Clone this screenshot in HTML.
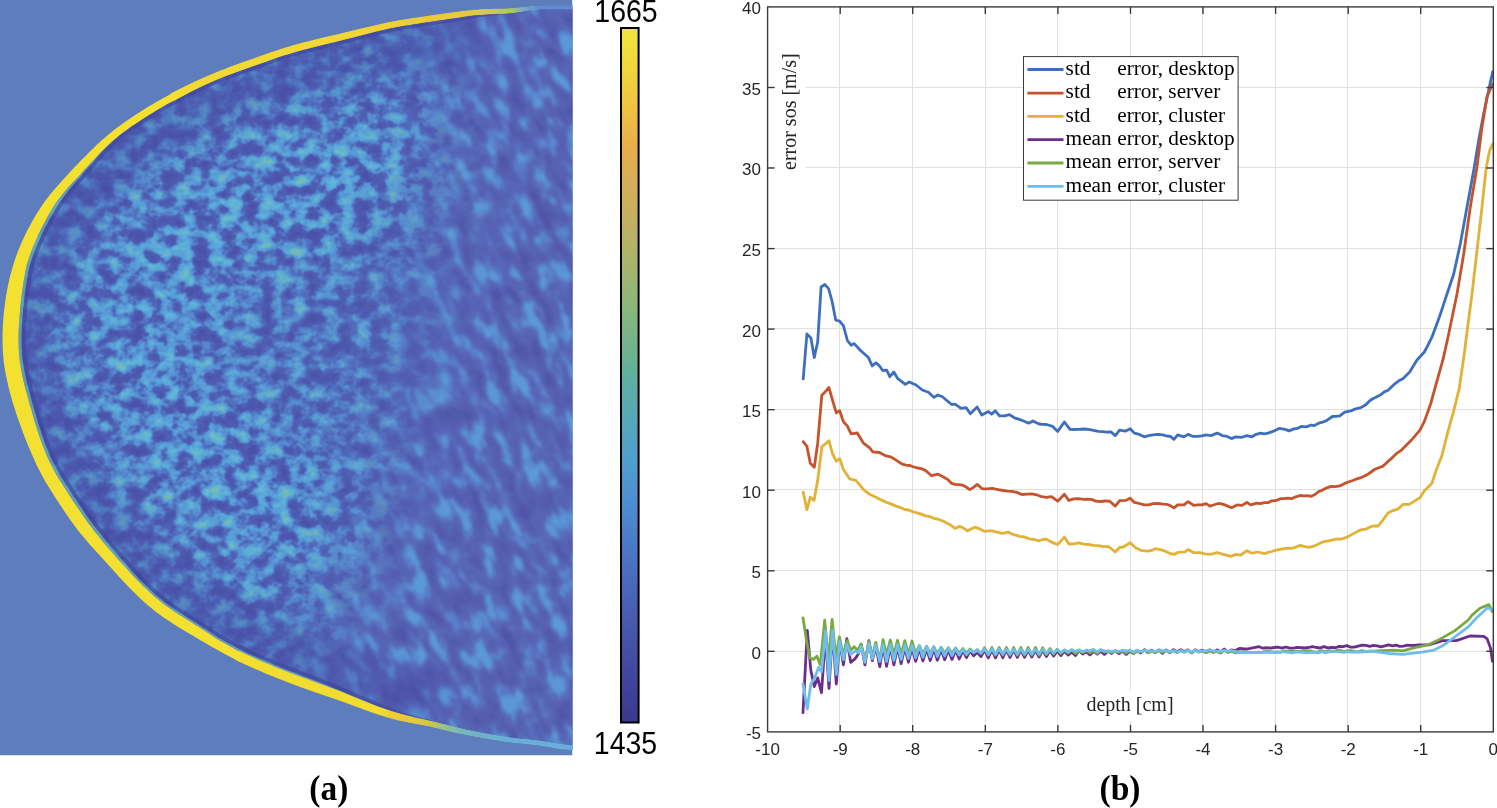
<!DOCTYPE html>
<html><head><meta charset="utf-8"><title>figure</title>
<style>html,body{margin:0;padding:0;background:#fff;width:1497px;height:808px;overflow:hidden}svg{display:block}</style>
</head><body>
<svg width="1497" height="808" viewBox="0 0 1497 808">
<defs>
<clipPath id="hm"><rect x="0" y="0" width="572.5" height="755.5"/></clipPath>
<clipPath id="br"><path d="M574.0,6.0 L571.4,6.0 L567.8,6.0 L563.5,6.0 L559.2,6.0 L555.4,6.0 L552.1,6.0 L548.9,6.0 L545.9,6.0 L542.9,6.0 L540.0,6.1 L537.1,6.3 L534.4,6.4 L531.7,6.6 L529.0,6.9 L526.3,7.1 L523.5,7.4 L520.8,7.7 L518.1,8.0 L515.3,8.3 L512.2,8.6 L509.1,8.8 L505.7,8.9 L502.3,9.0 L498.8,9.1 L495.2,9.2 L491.7,9.3 L488.1,9.4 L484.5,9.5 L480.8,9.7 L477.1,9.9 L473.2,10.3 L469.3,10.7 L465.3,11.1 L461.1,11.6 L456.9,12.2 L452.3,12.8 L447.6,13.4 L442.8,14.1 L438.0,14.7 L433.5,15.4 L429.0,16.0 L424.7,16.7 L420.5,17.3 L416.4,17.9 L412.4,18.5 L408.6,19.1 L405.1,19.7 L401.6,20.2 L398.0,20.8 L394.2,21.6 L390.3,22.3 L386.4,23.1 L382.3,24.0 L377.8,25.0 L372.7,26.2 L366.8,27.6 L360.3,29.1 L353.3,30.8 L346.3,32.5 L339.4,34.2 L332.3,35.8 L325.0,37.5 L317.8,39.2 L310.9,40.9 L304.6,42.5 L299.1,43.9 L294.1,45.3 L289.5,46.7 L285.1,48.0 L280.6,49.4 L276.2,50.9 L271.9,52.3 L267.7,53.8 L263.5,55.3 L259.3,56.8 L255.0,58.3 L250.8,59.8 L246.5,61.3 L242.2,62.8 L238.0,64.3 L233.8,65.8 L229.7,67.3 L225.7,68.9 L221.5,70.5 L217.2,72.2 L212.8,74.0 L208.3,75.9 L203.7,77.9 L199.1,80.0 L194.5,82.1 L189.8,84.3 L184.9,86.7 L180.1,89.1 L175.3,91.5 L170.7,94.0 L166.2,96.4 L161.6,98.9 L157.2,101.4 L153.0,103.9 L148.9,106.3 L145.0,108.7 L141.4,110.9 L137.9,113.2 L134.5,115.4 L131.1,117.7 L127.8,120.0 L124.5,122.2 L121.4,124.5 L118.3,126.8 L115.2,129.1 L112.2,131.5 L109.2,133.9 L106.2,136.4 L103.3,138.9 L100.4,141.5 L97.5,144.1 L94.8,146.7 L92.0,149.4 L89.3,152.1 L86.5,154.9 L83.7,157.7 L80.9,160.6 L78.2,163.4 L75.4,166.3 L72.7,169.2 L70.0,172.1 L67.4,174.9 L64.8,177.7 L62.2,180.6 L59.7,183.4 L57.2,186.3 L54.7,189.0 L52.3,191.9 L49.8,194.8 L47.4,198.0 L44.9,201.3 L42.4,204.8 L40.0,208.4 L37.6,212.2 L35.2,216.1 L32.8,220.2 L30.5,224.4 L28.2,228.7 L25.9,233.2 L23.8,237.6 L21.7,242.2 L19.7,246.9 L17.8,251.6 L16.0,256.4 L14.4,261.2 L12.9,266.0 L11.5,270.9 L10.2,275.8 L9.0,280.7 L7.9,285.7 L6.9,290.7 L6.0,295.7 L5.3,300.8 L4.6,305.9 L4.0,311.1 L3.5,316.3 L3.1,321.6 L2.8,326.9 L2.6,332.1 L2.5,337.1 L2.5,341.8 L2.6,346.3 L2.8,350.7 L3.1,355.0 L3.5,359.2 L3.9,363.3 L4.5,367.2 L5.1,371.1 L5.9,375.0 L6.7,379.0 L7.6,383.1 L8.5,387.2 L9.6,391.4 L10.7,395.6 L11.9,399.7 L13.1,403.9 L14.4,408.0 L15.7,412.1 L17.1,416.3 L18.6,420.5 L20.1,424.8 L21.7,429.1 L23.3,433.4 L25.0,437.8 L26.7,442.0 L28.4,446.3 L30.2,450.5 L32.0,454.7 L33.8,458.8 L35.6,462.9 L37.5,466.7 L39.3,470.5 L41.2,474.1 L43.2,477.8 L45.2,481.4 L47.4,485.0 L49.6,488.6 L51.8,492.1 L54.1,495.7 L56.4,499.2 L58.7,502.8 L61.0,506.3 L63.4,509.9 L65.8,513.4 L68.3,517.0 L70.8,520.5 L73.3,524.1 L75.9,527.6 L78.6,531.2 L81.4,534.6 L84.2,538.1 L87.2,541.5 L90.2,544.9 L93.2,548.3 L96.3,551.7 L99.4,555.1 L102.5,558.6 L105.6,562.0 L108.8,565.5 L112.0,569.0 L115.2,572.6 L118.5,576.2 L121.8,579.8 L125.1,583.3 L128.4,586.8 L131.7,590.1 L134.9,593.3 L138.2,596.5 L141.4,599.5 L144.6,602.5 L147.7,605.2 L150.9,607.8 L153.9,610.3 L157.1,612.7 L160.2,615.1 L163.4,617.4 L166.6,619.5 L169.8,621.6 L173.0,623.7 L176.3,625.8 L179.7,627.9 L183.1,629.9 L186.6,632.0 L190.1,634.0 L193.6,636.1 L197.2,638.2 L200.8,640.4 L204.5,642.6 L208.2,644.8 L212.0,647.0 L215.8,649.1 L219.7,651.3 L223.6,653.4 L227.6,655.5 L231.5,657.5 L235.4,659.5 L239.3,661.4 L243.2,663.2 L247.1,665.0 L250.9,666.7 L254.8,668.4 L258.7,670.1 L262.5,671.8 L266.4,673.4 L270.4,675.1 L274.5,676.7 L278.7,678.4 L283.0,680.1 L287.3,681.8 L291.6,683.4 L296.0,685.1 L300.4,686.7 L304.9,688.3 L309.4,689.9 L313.9,691.5 L318.4,693.1 L322.8,694.6 L327.3,696.1 L331.7,697.6 L336.0,699.1 L340.2,700.6 L344.4,702.1 L348.6,703.6 L352.6,705.1 L356.7,706.5 L360.6,707.9 L364.5,709.4 L368.4,710.8 L372.2,712.2 L376.1,713.5 L380.0,714.8 L383.8,716.0 L387.7,717.2 L391.5,718.3 L395.3,719.3 L399.0,720.2 L402.7,721.0 L406.3,721.7 L409.9,722.4 L413.3,723.1 L416.7,723.7 L420.0,724.3 L423.2,724.9 L426.3,725.5 L429.4,726.1 L432.3,726.8 L435.1,727.4 L437.9,728.1 L440.6,728.8 L443.4,729.5 L446.2,730.2 L449.0,730.9 L451.8,731.6 L454.8,732.3 L457.8,732.9 L461.1,733.6 L464.5,734.2 L468.0,734.9 L471.5,735.5 L475.1,736.2 L478.7,736.8 L482.3,737.5 L486.0,738.1 L489.7,738.8 L493.5,739.4 L497.3,740.0 L501.2,740.6 L505.0,741.2 L508.9,741.7 L512.7,742.2 L516.6,742.7 L520.5,743.1 L524.3,743.4 L528.1,743.8 L531.6,744.2 L534.8,744.6 L537.9,745.0 L540.8,745.4 L543.7,745.8 L546.4,746.2 L549.0,746.6 L551.4,747.1 L553.8,747.6 L556.2,748.0 L558.8,748.4 L561.9,748.8 L565.4,749.1 L568.9,749.4 L571.9,749.6 L574.0,749.8 Z"/></clipPath>
<filter id="texA" x="0" y="0" width="575" height="760" filterUnits="userSpaceOnUse" color-interpolation-filters="sRGB">
<feTurbulence type="fractalNoise" baseFrequency="0.062 0.07" numOctaves="3" seed="11"/>
<feColorMatrix type="matrix" values="1.5 0 0 0 -0.30  1.5 0 0 0 -0.30  1.5 0 0 0 -0.30  0 0 0 0 1"/>
<feComponentTransfer>
<feFuncR type="table" tableValues="0.30 0.305 0.31 0.315 0.32 0.325 0.33 0.34 0.35 0.36 0.40"/>
<feFuncG type="table" tableValues="0.33 0.345 0.36 0.375 0.39 0.42 0.48 0.55 0.60 0.64 0.68"/>
<feFuncB type="table" tableValues="0.67 0.68 0.69 0.70 0.71 0.73 0.77 0.81 0.83 0.84 0.80"/>
</feComponentTransfer>
</filter>
<filter id="texB" x="0" y="0" width="575" height="760" filterUnits="userSpaceOnUse" color-interpolation-filters="sRGB">
<feTurbulence type="fractalNoise" baseFrequency="0.062 0.07" numOctaves="3" seed="11"/>
<feColorMatrix type="matrix" values="1.7 0 0 0 -0.38  1.7 0 0 0 -0.38  1.7 0 0 0 -0.38  0 0 0 0 1"/>
<feComponentTransfer>
<feFuncR type="table" tableValues="0.29 0.30 0.305 0.31 0.32 0.34 0.35 0.35 0.37 0.40 0.47"/>
<feFuncG type="table" tableValues="0.32 0.34 0.355 0.38 0.46 0.55 0.62 0.66 0.70 0.72 0.74"/>
<feFuncB type="table" tableValues="0.66 0.675 0.69 0.71 0.76 0.81 0.85 0.86 0.84 0.80 0.69"/>
</feComponentTransfer>
</filter>
<filter id="blur40" x="-50%" y="-50%" width="200%" height="200%"><feGaussianBlur stdDeviation="40"/></filter>
<mask id="glm" maskUnits="userSpaceOnUse" x="0" y="0" width="575" height="760">
<g filter="url(#blur40)"><path d="M475.6,65.3 L471.8,65.7 L467.9,66.2 L463.8,66.7 L459.5,67.3 L455.0,67.9 L450.4,68.5 L445.7,69.2 L441.3,69.8 L437.0,70.4 L432.9,71.0 L428.8,71.7 L424.8,72.3 L420.9,72.9 L417.0,73.5 L413.6,74.0 L410.5,74.5 L407.6,75.0 L404.5,75.6 L401.2,76.2 L397.8,76.9 L394.1,77.7 L389.9,78.7 L385.1,79.8 L379.4,81.1 L373.1,82.6 L366.3,84.3 L359.2,86.0 L352.1,87.7 L344.9,89.4 L337.6,91.1 L330.5,92.8 L324.0,94.3 L318.3,95.7 L313.4,97.0 L309.1,98.2 L305.1,99.4 L301.3,100.6 L297.4,101.8 L293.7,103.0 L290.1,104.2 L286.2,105.6 L282.0,107.1 L277.5,108.7 L273.0,110.3 L268.7,111.8 L264.6,113.2 L260.6,114.6 L256.8,116.0 L252.9,117.4 L249.0,118.8 L245.4,120.2 L241.7,121.6 L238.0,123.1 L234.0,124.8 L229.9,126.5 L225.9,128.3 L221.8,130.1 L217.8,131.9 L213.6,133.9 L209.3,136.0 L204.9,138.2 L200.6,140.4 L196.5,142.5 L192.5,144.7 L188.6,146.9 L184.6,149.1 L180.8,151.3 L177.2,153.5 L173.9,155.5 L170.8,157.4 L167.8,159.4 L164.8,161.3 L161.9,163.3 L159.0,165.2 L156.3,167.1 L153.8,168.9 L151.3,170.7 L148.9,172.6 L146.5,174.5 L144.1,176.4 L141.8,178.4 L139.4,180.4 L137.2,182.4 L135.0,184.3 L132.9,186.4 L130.6,188.6 L128.1,191.1 L125.5,193.7 L123.0,196.2 L120.4,198.8 L117.9,201.5 L115.3,204.2 L112.8,206.9 L110.3,209.5 L107.8,212.2 L105.5,214.7 L103.2,217.3 L100.8,219.9 L98.3,222.8 L96.1,225.3 L94.2,227.4 L92.7,229.3 L91.2,231.1 L89.5,233.5 L87.7,236.0 L85.9,238.7 L84.2,241.4 L82.4,244.2 L80.6,247.3 L78.8,250.6 L77.0,254.0 L75.3,257.3 L73.7,260.8 L72.1,264.3 L70.5,268.0 L69.1,271.6 L67.8,275.1 L66.6,278.5 L65.5,281.8 L64.5,285.4 L63.5,289.1 L62.6,292.9 L61.8,296.8 L61.0,300.8 L60.3,304.7 L59.7,308.7 L59.1,312.8 L58.7,316.8 L58.3,320.9 L58.0,325.2 L57.7,329.5 L57.6,333.7 L57.5,337.6 L57.5,341.2 L57.6,344.5 L57.7,347.6 L57.9,350.7 L58.2,353.7 L58.5,356.3 L58.9,358.9 L59.3,361.5 L59.9,364.5 L60.5,367.7 L61.2,370.9 L62.0,374.2 L62.8,377.6 L63.8,381.1 L64.7,384.6 L65.8,388.0 L66.8,391.4 L68.0,395.0 L69.2,398.6 L70.4,402.3 L71.8,406.0 L73.2,409.8 L74.7,413.7 L76.2,417.6 L77.7,421.5 L79.3,425.5 L80.9,429.3 L82.4,432.9 L83.9,436.3 L85.4,439.5 L86.8,442.5 L88.3,445.5 L89.8,448.4 L91.4,451.2 L92.9,454.0 L94.5,456.6 L96.2,459.4 L98.1,462.5 L100.3,465.8 L102.6,469.3 L104.8,472.8 L107.0,476.1 L109.1,479.3 L111.2,482.4 L113.3,485.4 L115.6,488.6 L117.8,491.7 L120.0,494.7 L122.1,497.5 L124.1,500.1 L126.2,502.6 L128.6,505.3 L131.2,508.3 L134.2,511.6 L137.2,515.0 L140.2,518.3 L143.2,521.6 L146.2,524.9 L149.4,528.4 L152.6,531.9 L155.9,535.5 L159.2,539.1 L162.3,542.5 L165.1,545.6 L167.9,548.5 L170.7,551.3 L173.5,554.2 L176.2,556.8 L178.8,559.2 L181.2,561.4 L183.6,563.5 L185.9,565.4 L188.1,567.3 L190.4,569.0 L192.7,570.7 L194.8,572.3 L197.1,573.8 L199.6,575.4 L202.5,577.2 L205.5,579.1 L208.3,580.9 L211.3,582.7 L214.5,584.6 L218.0,586.6 L221.7,588.8 L225.5,591.1 L229.1,593.2 L232.6,595.3 L235.9,597.3 L239.2,599.2 L242.7,601.1 L246.2,603.1 L249.7,605.0 L253.1,606.8 L256.3,608.5 L259.5,610.1 L262.8,611.7 L266.3,613.3 L269.8,614.9 L273.5,616.5 L277.0,618.1 L280.5,619.6 L284.0,621.1 L287.6,622.7 L291.3,624.2 L295.1,625.8 L299.0,627.3 L303.0,628.9 L307.0,630.4 L311.0,632.0 L315.1,633.5 L319.2,635.0 L323.5,636.5 L327.9,638.1 L332.2,639.6 L336.4,641.1 L340.7,642.6 L345.1,644.1 L349.6,645.7 L354.1,647.2 L358.5,648.8 L362.8,650.3 L367.0,651.8 L371.1,653.3 L375.3,654.8 L379.6,656.3 L383.6,657.8 L387.2,659.1 L390.4,660.3 L393.5,661.3 L396.8,662.4 L400.2,663.5 L403.4,664.5 L406.3,665.3 L408.9,666.0 L411.4,666.6 L414.0,667.2 L417.0,667.8 L420.4,668.4 L423.8,669.1 L426.7,669.7 L429.7,670.2 L433.0,670.8 L436.7,671.5 L440.2,672.2 L472.7,510.4 L467.9,509.5 L462.4,508.4 L458.8,507.8 L456.9,507.5 L455.1,507.1 L452.0,506.5 L449.1,505.9 L447.9,505.7 L448.4,505.8 L449.8,506.2 L450.6,506.4 L450.3,506.3 L449.2,505.9 L447.5,505.4 L445.9,504.9 L445.1,504.6 L443.7,504.1 L440.7,503.0 L436.4,501.4 L431.3,499.5 L426.6,497.9 L422.4,496.4 L418.0,494.8 L413.4,493.2 L408.6,491.5 L403.6,489.7 L398.8,488.1 L394.5,486.6 L390.7,485.3 L387.1,484.0 L383.2,482.6 L379.2,481.2 L375.5,479.9 L372.2,478.7 L369.3,477.6 L366.2,476.4 L363.1,475.2 L360.0,474.0 L357.0,472.8 L354.0,471.6 L351.1,470.4 L348.4,469.3 L346.0,468.2 L343.6,467.2 L341.0,466.0 L338.2,464.7 L335.6,463.5 L333.5,462.6 L332.0,461.9 L330.9,461.3 L329.7,460.7 L328.0,459.7 L325.8,458.6 L323.2,457.1 L320.8,455.8 L318.9,454.7 L316.7,453.4 L313.9,451.7 L310.3,449.5 L306.0,447.0 L301.7,444.4 L298.2,442.4 L295.7,440.9 L294.1,440.0 L292.8,439.1 L290.7,437.8 L289.1,436.8 L288.6,436.5 L289.2,436.9 L290.1,437.6 L290.6,437.9 L290.7,438.0 L291.0,438.2 L291.1,438.3 L291.1,438.4 L291.0,438.2 L290.5,437.7 L289.4,436.7 L287.8,435.1 L286.4,433.6 L285.2,432.4 L283.6,430.6 L281.1,428.0 L278.0,424.5 L274.4,420.6 L271.0,416.9 L268.1,413.7 L265.3,410.7 L262.8,407.9 L260.1,404.9 L257.0,401.4 L254.4,398.5 L252.8,396.7 L252.2,396.1 L252.4,396.3 L252.6,396.5 L252.1,395.9 L251.2,394.7 L249.9,392.8 L248.4,390.7 L247.3,389.1 L246.2,387.5 L244.8,385.4 L243.1,382.8 L241.0,379.5 L238.8,376.1 L237.1,373.5 L236.1,372.0 L235.9,371.6 L236.0,371.7 L235.8,371.5 L235.6,371.0 L235.3,370.5 L235.0,369.9 L234.7,369.3 L234.4,368.7 L233.9,367.5 L233.1,365.6 L232.0,363.0 L230.8,360.0 L229.7,357.2 L228.7,354.6 L227.7,352.1 L226.9,349.8 L226.1,347.6 L225.4,345.4 L224.7,343.4 L224.2,341.7 L223.7,340.4 L223.3,339.1 L222.9,337.6 L222.5,336.1 L222.3,335.0 L222.1,334.4 L222.0,333.8 L221.8,332.9 L221.8,332.8 L221.9,333.7 L222.2,335.5 L222.4,337.0 L222.4,337.8 L222.5,338.3 L222.5,338.8 L222.5,339.3 L222.5,339.3 L222.5,338.5 L222.6,337.2 L222.6,335.8 L222.7,334.7 L222.8,334.0 L222.9,333.2 L223.0,332.4 L223.1,331.7 L223.2,331.1 L223.3,330.4 L223.5,329.6 L223.6,329.0 L223.7,328.9 L223.5,329.4 L223.2,330.3 L222.9,331.2 L222.8,331.6 L222.9,331.4 L223.1,330.7 L223.4,330.1 L223.5,329.9 L223.6,329.7 L223.8,329.3 L224.1,328.8 L224.2,328.7 L224.0,329.1 L223.6,329.5 L223.5,329.8 L223.4,330.0 L222.8,330.7 L221.3,332.6 L220.0,334.2 L220.1,334.2 L221.7,332.3 L224.2,329.5 L226.1,327.3 L227.6,325.7 L229.2,323.9 L231.0,322.0 L233.0,319.9 L235.0,317.7 L237.0,315.6 L238.9,313.7 L240.6,311.9 L242.4,310.1 L244.5,308.0 L246.2,306.3 L247.2,305.3 L247.6,305.0 L247.6,305.0 L247.9,304.7 L248.4,304.3 L249.0,303.8 L249.5,303.4 L250.0,303.0 L250.4,302.7 L250.9,302.3 L251.6,301.8 L252.8,301.0 L254.3,299.9 L256.0,298.8 L257.5,297.8 L258.9,296.9 L260.3,296.1 L262.0,295.0 L264.3,293.7 L266.8,292.2 L269.3,290.8 L271.7,289.4 L274.0,288.2 L276.6,286.9 L279.4,285.4 L282.3,284.0 L285.1,282.6 L287.6,281.4 L289.9,280.4 L292.2,279.3 L294.8,278.2 L297.6,277.0 L300.3,275.9 L302.5,275.0 L304.5,274.3 L306.9,273.3 L309.9,272.2 L313.1,271.1 L315.9,270.0 L318.9,269.0 L322.6,267.7 L326.9,266.2 L332.1,264.4 L337.5,262.5 L341.9,260.9 L344.8,259.9 L346.3,259.4 L347.7,258.9 L349.9,258.2 L352.1,257.6 L354.2,257.0 L356.6,256.3 L359.5,255.5 L363.3,254.6 L368.6,253.3 L375.2,251.7 L382.6,250.0 L390.3,248.2 L397.8,246.4 L405.0,244.7 L411.6,243.1 L417.4,241.7 L422.3,240.5 L426.4,239.6 L429.7,238.9 L432.1,238.3 L434.0,237.9 L435.5,237.6 L436.5,237.5 L437.3,237.3 L439.1,237.0 L442.3,236.5 L446.2,235.9 L450.1,235.3 L453.7,234.8 L457.3,234.2 L461.0,233.7 L464.8,233.1 L468.9,232.5 L473.1,231.9 L477.2,231.4 L481.0,230.9 L484.5,230.4 L488.2,230.0 L491.3,229.6 L494.6,229.2 Z" fill="#fff"/><ellipse cx="330" cy="420" rx="90" ry="120" fill="#fff" opacity="0.35"/></g>
</mask>
<filter id="blur12" x="-20%" y="-20%" width="140%" height="140%"><feGaussianBlur stdDeviation="10"/></filter>
<filter id="texC" x="-400" y="-400" width="1400" height="1600" filterUnits="userSpaceOnUse" color-interpolation-filters="sRGB">
<feTurbulence type="fractalNoise" baseFrequency="0.075 0.035" numOctaves="3" seed="23"/>
<feColorMatrix type="matrix" values="2.0 0 0 0 -0.44  2.0 0 0 0 -0.44  2.0 0 0 0 -0.44  0 0 0 0 1"/>
<feComponentTransfer>
<feFuncR type="table" tableValues="0.31 0.32 0.33 0.335 0.34 0.345 0.345 0.35 0.35 0.35 0.36"/>
<feFuncG type="table" tableValues="0.33 0.35 0.36 0.37 0.38 0.39 0.41 0.45 0.50 0.55 0.60"/>
<feFuncB type="table" tableValues="0.66 0.67 0.68 0.69 0.70 0.71 0.72 0.75 0.79 0.82 0.84"/>
</feComponentTransfer>
<feGaussianBlur stdDeviation="1.5"/>
</filter>
<mask id="rtm" maskUnits="userSpaceOnUse" x="0" y="0" width="575" height="760">
<g filter="url(#blur40)"><path d="M420,-50 L650,-50 L650,820 L300,820 L320,640 L380,480 L420,300 L440,100 Z" fill="#fff"/></g>
</mask>
<linearGradient id="fade" x1="0" y1="0" x2="575" y2="0" gradientUnits="userSpaceOnUse">
<stop offset="0" stop-color="#5262b4" stop-opacity="0"/>
<stop offset="0.5" stop-color="#5262b4" stop-opacity="0.05"/>
<stop offset="0.8" stop-color="#5262b4" stop-opacity="0.4"/>
<stop offset="1" stop-color="#5262b4" stop-opacity="0.5"/>
</linearGradient>
</defs>
<g clip-path="url(#hm)">
<rect x="0" y="0" width="572.5" height="755.5" fill="#5e7dbd"/>
<g clip-path="url(#br)"><rect x="0" y="0" width="575" height="760" fill="#5566b5" filter="url(#texA)"/><g mask="url(#glm)"><rect x="0" y="0" width="575" height="760" fill="#5566b5" filter="url(#texB)"/></g><g mask="url(#rtm)"><g transform="rotate(-25 450 380)"><rect x="-400" y="-400" width="1400" height="1600" fill="#5566b5" filter="url(#texC)"/></g></g><path d="M470.0,16.6 L466.0,17.1 L461.9,17.6 L457.6,18.1 L453.1,18.7 L448.4,19.3 L443.6,20.0 L438.9,20.7 L434.3,21.3 L429.9,22.0 L425.6,22.6 L421.4,23.2 L417.3,23.9 L413.3,24.5 L409.5,25.1 L406.0,25.6 L402.6,26.2 L399.1,26.8 L395.3,27.4 L391.5,28.2 L387.6,29.0 L383.6,29.9 L379.1,30.9 L374.0,32.0 L368.2,33.4 L361.7,35.0 L354.8,36.6 L347.7,38.3 L340.7,40.0 L333.7,41.7 L326.4,43.4 L319.2,45.1 L312.3,46.7 L306.1,48.3 L300.6,49.7 L295.7,51.1 L291.2,52.4 L286.8,53.7 L282.4,55.1 L278.1,56.5 L273.9,58.0 L269.7,59.5 L265.5,61.0 L261.3,62.5 L257.0,64.0 L252.7,65.5 L248.5,66.9 L244.2,68.4 L240.0,69.9 L235.9,71.4 L231.9,72.9 L227.8,74.5 L223.7,76.1 L219.5,77.8 L215.1,79.6 L210.7,81.4 L206.2,83.4 L201.6,85.4 L197.0,87.5 L192.4,89.7 L187.6,92.1 L182.8,94.5 L178.1,96.9 L173.5,99.3 L169.0,101.7 L164.6,104.2 L160.2,106.6 L156.0,109.1 L152.0,111.5 L148.2,113.8 L144.6,116.0 L141.1,118.2 L137.8,120.4 L134.4,122.7 L131.2,124.9 L128.0,127.1 L124.9,129.3 L121.9,131.6 L118.9,133.8 L115.9,136.2 L113.0,138.6 L110.1,141.0 L107.2,143.5 L104.4,146.0 L101.6,148.5 L98.9,151.1 L96.2,153.7 L93.5,156.4 L90.8,159.1 L88.0,161.9 L85.3,164.7 L82.5,167.6 L79.7,170.5 L77.0,173.3 L74.4,176.2 L71.8,179.0 L69.2,181.8 L66.7,184.6 L64.2,187.4 L61.7,190.2 L59.2,193.0 L56.8,195.7 L54.5,198.6 L52.2,201.6 L49.8,204.8 L47.4,208.2 L45.0,211.7 L42.6,215.4 L40.3,219.2 L38.0,223.1 L35.7,227.2 L33.5,231.5 L31.3,235.8 L29.2,240.2 L27.2,244.6 L25.3,249.2 L23.4,253.8 L21.7,258.4 L20.1,263.1 L18.6,267.7 L17.2,272.4 L16.0,277.2 L14.9,282.0 L13.8,286.9 L12.8,291.8 L12.0,296.7 L11.2,301.7 L10.5,306.7 L9.9,311.7 L9.5,316.8 L9.1,322.0 L8.8,327.2 L8.6,332.3 L8.5,337.2 L8.5,341.7 L8.6,346.1 L8.8,350.4 L9.1,354.5 L9.4,358.6 L9.9,362.6 L10.4,366.3 L11.1,370.1 L11.8,373.9 L12.5,377.7 L13.4,381.7 L14.4,385.8 L15.4,389.9 L16.5,394.0 L17.6,398.1 L18.8,402.1 L20.1,406.2 L21.4,410.3 L22.8,414.4 L24.2,418.5 L25.7,422.7 L27.3,427.0 L28.9,431.3 L30.6,435.6 L32.3,439.8 L34.0,444.0 L35.7,448.2 L37.5,452.3 L39.2,456.4 L41.0,460.3 L42.8,464.1 L44.7,467.7 L46.5,471.3 L48.5,474.9 L50.5,478.4 L52.5,481.9 L54.7,485.4 L56.9,488.9 L59.1,492.4 L61.4,495.9 L63.7,499.5 L66.1,503.0 L68.4,506.6 L70.8,510.1 L73.2,513.6 L75.7,517.1 L78.2,520.6 L80.8,524.0 L83.4,527.5 L86.0,530.9 L88.8,534.2 L91.7,537.6 L94.6,540.9 L97.7,544.3 L100.7,547.7 L103.8,551.1 L106.9,554.5 L110.1,558.0 L113.2,561.5 L116.4,565.0 L119.7,568.5 L123.0,572.1 L126.2,575.7 L129.5,579.2 L132.7,582.6 L135.9,585.8 L139.1,589.1 L142.3,592.2 L145.5,595.1 L148.6,598.0 L151.7,600.7 L154.7,603.2 L157.7,605.6 L160.7,608.0 L163.7,610.3 L166.8,612.4 L169.9,614.5 L173.0,616.6 L176.3,618.6 L179.5,620.7 L182.8,622.8 L186.2,624.8 L189.6,626.8 L193.1,628.8 L196.7,630.9 L200.3,633.1 L203.9,635.3 L207.6,637.5 L211.2,639.6 L214.9,641.8 L218.7,643.9 L222.6,646.0 L226.5,648.2 L230.3,650.2 L234.2,652.2 L238.0,654.1 L241.8,655.9 L245.7,657.7 L249.5,659.5 L253.4,661.3 L257.2,663.0 L261.0,664.6 L264.9,666.3 L268.7,667.9 L272.7,669.5 L276.8,671.2 L280.9,672.9 L285.2,674.5 L289.4,676.2 L293.7,677.8 L298.1,679.4 L302.5,681.1 L307.0,682.7 L311.4,684.3 L315.9,685.8 L320.3,687.4 L324.8,688.9 L329.2,690.5 L333.6,692.0 L338.0,693.5 L342.2,695.0 L346.4,696.5 L350.6,697.9 L354.7,699.4 L358.7,700.9 L362.7,702.3 L366.6,703.8 L370.4,705.2 L374.2,706.5 L378.0,707.8 L381.8,709.1 L385.6,710.3 L389.4,711.4 L393.1,712.5 L396.8,713.5 L400.4,714.4 L403.9,715.1 L407.5,715.8 L411.0,716.5 L414.5,717.2 L417.8,717.8 L421.0,718.4 L424.3,719.0 L427.5,719.6 L430.6,720.2 L439.2,677.1 L435.8,676.4 L432.1,675.7 L428.8,675.1 L425.8,674.6 L422.8,674.0 L419.4,673.3 L416.0,672.7 L413.0,672.1 L410.2,671.5 L407.7,670.9 L405.0,670.1 L401.9,669.2 L398.7,668.3 L395.3,667.2 L392.0,666.1 L388.8,665.0 L385.5,663.8 L381.9,662.5 L377.9,661.0 L373.6,659.5 L369.5,658.0 L365.3,656.5 L361.1,655.0 L356.9,653.5 L352.5,652.0 L348.0,650.4 L343.5,648.9 L339.1,647.3 L334.8,645.8 L330.5,644.3 L326.2,642.8 L321.8,641.2 L317.5,639.7 L313.3,638.2 L309.2,636.6 L305.2,635.1 L301.2,633.5 L297.2,632.0 L293.3,630.4 L289.4,628.8 L285.7,627.3 L282.0,625.7 L278.5,624.2 L275.0,622.7 L271.4,621.1 L267.8,619.5 L264.2,617.8 L260.7,616.2 L257.3,614.6 L254.1,612.9 L250.8,611.2 L247.3,609.4 L243.8,607.5 L240.2,605.5 L236.7,603.5 L233.4,601.6 L230.0,599.6 L226.5,597.5 L222.9,595.4 L219.1,593.1 L215.4,590.9 L211.9,588.9 L208.7,587.0 L205.7,585.2 L202.8,583.4 L199.8,581.5 L196.9,579.6 L194.3,577.9 L192.0,576.4 L189.7,574.8 L187.4,573.0 L185.0,571.2 L182.7,569.3 L180.3,567.3 L177.9,565.2 L175.4,562.9 L172.8,560.4 L170.0,557.7 L167.2,554.9 L164.3,551.9 L161.5,549.0 L158.6,545.9 L155.5,542.5 L152.2,538.9 L148.9,535.3 L145.7,531.7 L142.5,528.3 L139.5,525.0 L136.5,521.7 L133.5,518.3 L130.4,514.9 L127.5,511.6 L124.8,508.6 L122.4,505.8 L120.3,503.2 L118.2,500.5 L116.0,497.7 L113.8,494.7 L111.5,491.5 L109.2,488.3 L107.1,485.2 L104.9,482.1 L102.8,478.8 L100.6,475.5 L98.4,472.0 L96.1,468.5 L93.9,465.2 L92.0,462.1 L90.2,459.2 L88.6,456.5 L87.0,453.6 L85.4,450.7 L83.9,447.7 L82.4,444.7 L80.9,441.6 L79.4,438.4 L77.9,434.9 L76.3,431.2 L74.7,427.4 L73.1,423.4 L71.5,419.5 L70.0,415.5 L68.5,411.6 L67.1,407.7 L65.7,403.9 L64.4,400.2 L63.2,396.5 L62.0,392.9 L61.0,389.4 L59.9,385.9 L58.9,382.4 L58.0,378.8 L57.1,375.3 L56.3,372.0 L55.6,368.7 L54.9,365.4 L54.4,362.4 L53.9,359.6 L53.5,357.0 L53.2,354.2 L52.9,351.1 L52.7,347.9 L52.6,344.6 L52.5,341.2 L52.5,337.6 L52.6,333.6 L52.7,329.3 L53.0,324.9 L53.3,320.5 L53.7,316.3 L54.2,312.1 L54.7,308.0 L55.4,303.9 L56.1,299.9 L56.9,295.8 L57.8,291.8 L58.7,287.9 L59.7,284.1 L60.7,280.4 L61.8,276.9 L63.1,273.4 L64.4,269.8 L65.9,266.1 L67.5,262.3 L69.2,258.7 L70.8,255.1 L72.6,251.7 L74.4,248.2 L76.3,244.9 L78.1,241.7 L79.9,238.8 L81.7,235.9 L83.6,233.2 L85.5,230.5 L87.2,228.1 L88.8,226.1 L90.4,224.2 L92.3,222.0 L94.6,219.4 L97.1,216.6 L99.5,213.9 L101.8,211.4 L104.2,208.8 L106.6,206.1 L109.1,203.5 L111.7,200.8 L114.3,198.0 L116.8,195.4 L119.4,192.7 L122.0,190.2 L124.6,187.6 L127.1,185.1 L129.4,182.8 L131.6,180.7 L133.8,178.7 L136.1,176.6 L138.5,174.6 L140.9,172.5 L143.4,170.6 L145.8,168.6 L148.3,166.7 L150.8,164.9 L153.4,163.0 L156.2,161.1 L159.1,159.1 L162.1,157.1 L165.1,155.2 L168.1,153.2 L171.2,151.3 L174.6,149.2 L178.3,147.0 L182.1,144.8 L186.1,142.5 L190.1,140.3 L194.2,138.1 L198.3,135.9 L202.7,133.7 L207.1,131.5 L211.4,129.4 L215.6,127.4 L219.7,125.5 L223.9,123.7 L228.0,121.9 L232.1,120.2 L236.1,118.5 L239.9,117.0 L243.6,115.5 L247.3,114.1 L251.1,112.7 L255.1,111.3 L259.0,109.9 L262.9,108.5 L267.1,107.0 L271.4,105.6 L275.8,104.0 L280.3,102.4 L284.6,100.9 L288.5,99.5 L292.1,98.2 L295.9,97.0 L299.8,95.8 L303.7,94.6 L307.8,93.4 L312.1,92.2 L317.1,90.9 L322.8,89.5 L329.3,87.9 L336.4,86.2 L343.8,84.5 L350.9,82.8 L358.0,81.1 L365.1,79.4 L371.9,77.8 L378.3,76.2 L384.0,74.9 L388.8,73.8 L393.1,72.8 L396.8,72.0 L400.2,71.3 L403.6,70.7 L406.7,70.1 L409.7,69.6 L412.8,69.1 L416.3,68.5 L420.1,68.0 L424.1,67.3 L428.0,66.7 L432.1,66.1 L436.3,65.5 L440.6,64.9 L445.0,64.2 L449.7,63.6 L454.3,62.9 L458.8,62.3 L463.1,61.8 L467.3,61.3 L471.2,60.8 L475.0,60.3 Z" fill="#4248a0" opacity="0.3" filter="url(#blur12)"/></g>
<path d="M574.0,9.0 L571.4,9.0 L567.8,9.0 L563.5,9.0 L559.2,9.0 L555.4,9.0 L552.1,9.0 L548.9,9.0 L545.9,9.0 L543.0,9.0 L540.1,9.1 L537.3,9.3 L534.6,9.6 L532.0,9.8 L529.3,10.1 L526.6,10.5 L523.9,10.9 L521.3,11.4 L518.5,11.8 L515.6,12.3 L512.5,12.7 L509.3,13.0 L505.9,13.2 L502.4,13.4 L498.9,13.5 L495.4,13.7 L491.8,13.9 L488.3,14.0 L484.7,14.2 L481.1,14.4 L477.4,14.7 L473.7,15.1 L469.8,15.6 L465.9,16.1 L461.8,16.8 L457.5,17.4 L453.0,18.0 L448.3,18.7 L443.5,19.4 L438.8,20.1 L434.2,20.8 L429.8,21.5 L425.5,22.1 L421.3,22.7 L417.2,23.4 L413.2,24.0 L409.5,24.6 L405.9,25.1 L402.5,25.7 L399.0,26.3 L395.2,27.0 L391.4,27.8 L387.6,28.6 L383.5,29.5 L379.0,30.6 L374.0,31.8 L368.1,33.3 L361.7,34.9 L354.8,36.7 L347.7,38.5 L340.8,40.3 L333.8,42.0 L326.5,43.7 L319.3,45.5 L312.4,47.2 L306.2,48.8 L300.8,50.2 L295.9,51.6 L291.3,52.9 L287.0,54.2 L282.6,55.6 L278.2,57.0 L274.0,58.5 L269.9,59.9 L265.7,61.5 L261.5,63.0 L257.2,64.4 L252.9,65.9 L248.6,67.4 L244.4,68.9 L240.2,70.4 L236.1,71.9 L232.0,73.4 L228.0,74.9 L223.9,76.5 L219.7,78.2 L215.3,80.1 L210.9,82.0 L206.4,84.0 L201.9,86.1 L197.3,88.2 L192.7,90.5 L188.0,92.9 L183.3,95.4 L178.6,97.9 L174.1,100.4 L169.7,102.8 L165.2,105.3 L160.9,107.8 L156.7,110.3 L152.8,112.8 L149.0,115.1 L145.4,117.3 L141.9,119.5 L138.6,121.7 L135.3,123.9 L132.0,126.1 L128.9,128.3 L125.8,130.5 L122.8,132.8 L119.8,135.0 L116.9,137.5 L114.1,140.0 L111.4,142.5 L108.6,145.1 L106.0,147.7 L103.4,150.4 L100.9,153.1 L98.4,155.9 L95.9,158.8 L93.4,161.7 L90.8,164.6 L88.2,167.6 L85.6,170.6 L83.0,173.6 L80.5,176.5 L77.9,179.4 L75.4,182.3 L73.0,185.2 L70.6,188.0 L68.1,190.9 L65.8,193.9 L63.6,196.8 L61.5,199.7 L59.5,202.6 L57.5,205.6 L55.5,208.9 L53.4,212.4 L51.4,215.9 L49.4,219.6 L47.4,223.4 L45.3,227.3 L43.3,231.3 L41.2,235.5 L39.3,239.7 L37.4,244.0 L35.7,248.3 L34.0,252.8 L32.4,257.3 L30.9,261.7 L29.6,266.2 L28.6,270.7 L27.7,275.3 L26.9,279.9 L26.2,284.6 L25.5,289.3 L24.8,294.0 L24.2,298.7 L23.7,303.5 L23.2,308.3 L22.9,313.1 L22.4,317.9 L22.0,322.9 L21.8,327.8 L21.6,332.7 L21.5,337.3 L21.5,341.6 L21.6,345.7 L21.8,349.7 L22.0,353.5 L22.4,357.3 L22.8,360.9 L23.3,364.4 L23.9,367.8 L24.5,371.4 L25.3,375.1 L26.1,378.9 L27.0,382.7 L28.0,386.6 L29.0,390.5 L30.1,394.5 L31.1,398.4 L32.2,402.4 L33.3,406.3 L34.5,410.4 L35.8,414.5 L36.9,418.7 L38.2,422.9 L39.5,427.2 L40.9,431.5 L42.2,435.8 L43.8,440.0 L45.3,444.2 L46.9,448.3 L48.5,452.2 L50.1,456.0 L51.8,459.7 L53.6,463.2 L55.4,466.6 L57.2,470.0 L59.1,473.4 L61.1,476.8 L63.1,480.1 L65.3,483.5 L67.5,487.0 L69.8,490.5 L72.1,494.0 L74.4,497.5 L76.7,501.0 L79.0,504.4 L81.4,507.8 L83.7,511.3 L86.1,514.8 L88.5,518.2 L91.0,521.6 L93.4,524.9 L95.9,528.2 L98.5,531.6 L101.2,535.0 L104.1,538.6 L106.9,542.2 L109.9,545.7 L112.8,549.2 L115.8,552.7 L118.9,556.3 L122.0,559.9 L125.2,563.5 L128.4,567.1 L131.6,570.7 L134.8,574.2 L137.9,577.5 L141.0,580.8 L144.1,584.0 L147.2,587.1 L150.2,590.0 L153.3,592.8 L156.2,595.3 L159.1,597.8 L162.0,600.1 L164.9,602.4 L167.9,604.6 L170.8,606.7 L173.8,608.7 L176.8,610.7 L180.0,612.7 L183.2,614.8 L186.4,616.9 L189.7,618.9 L193.0,621.0 L196.5,623.2 L200.0,625.4 L203.5,627.7 L207.0,630.0 L210.6,632.4 L214.1,634.7 L217.7,637.0 L221.4,639.2 L225.1,641.4 L228.9,643.6 L232.7,645.7 L236.4,647.7 L240.2,649.6 L244.0,651.4 L247.8,653.2 L251.6,655.0 L255.5,656.7 L259.3,658.4 L263.0,660.0 L266.8,661.6 L270.7,663.3 L274.6,664.9 L278.7,666.6 L282.8,668.2 L287.0,669.9 L291.2,671.5 L295.5,673.1 L299.8,674.7 L304.2,676.4 L308.6,678.1 L313.0,679.8 L317.4,681.5 L321.8,683.3 L326.1,685.0 L330.5,686.8 L334.8,688.5 L339.1,690.2 L343.3,692.0 L347.4,693.8 L351.4,695.6 L355.4,697.3 L359.3,699.1 L363.3,700.7 L367.1,702.4 L370.9,704.0 L374.6,705.5 L378.3,706.9 L382.1,708.2 L385.9,709.5 L389.6,710.8 L393.3,711.9 L396.9,713.0 L400.4,714.1 L403.9,715.0 L407.5,715.9 L411.0,716.8 L414.4,717.7 L417.7,718.4 L420.9,719.1 L424.1,719.8 L427.3,720.5 L430.4,721.2 L433.4,721.9 L436.3,722.6 L439.1,723.3 L441.8,724.0 L444.6,724.6 L447.4,725.4 L450.2,726.1 L453.0,726.8 L455.8,727.6 L458.8,728.3 L462.0,729.0 L465.3,729.8 L468.8,730.5 L472.3,731.2 L475.8,732.0 L479.4,732.7 L483.1,733.4 L486.7,734.1 L490.4,734.8 L494.1,735.5 L497.9,736.0 L501.7,736.6 L505.6,737.2 L509.4,737.7 L513.2,738.2 L517.0,738.7 L520.9,739.1 L524.7,739.5 L528.5,739.8 L532.0,740.2 L535.3,740.6 L538.4,741.0 L541.4,741.4 L544.2,741.8 L547.0,742.3 L549.7,742.7 L552.2,743.2 L554.5,743.6 L556.8,744.1 L559.3,744.4 L562.3,744.8 L565.8,745.1 L569.2,745.4 L572.2,745.6 L574.3,745.8 L574.3,745.8 L572.2,745.6 L569.2,745.4 L565.8,745.1 L562.3,744.8 L559.3,744.4 L556.8,744.1 L554.5,743.6 L552.2,743.2 L549.7,742.7 L547.0,742.3 L544.2,741.8 L541.4,741.4 L538.4,741.0 L535.3,740.6 L532.0,740.2 L528.5,739.8 L524.7,739.5 L520.9,739.1 L517.0,738.7 L513.2,738.2 L509.4,737.7 L505.6,737.2 L501.7,736.6 L497.9,736.0 L494.1,735.5 L490.4,734.8 L486.7,734.1 L483.1,733.4 L479.4,732.7 L475.8,732.0 L472.3,731.2 L468.8,730.5 L465.3,729.8 L462.0,729.0 L458.8,728.3 L455.8,727.6 L453.0,726.8 L450.2,726.1 L447.4,725.2 L444.7,724.3 L441.9,723.5 L439.2,722.7 L436.5,721.9 L433.6,721.0 L430.6,720.2 L427.5,719.3 L424.4,718.5 L421.2,717.6 L418.0,716.8 L414.7,715.9 L411.3,714.9 L407.9,713.8 L404.4,712.7 L401.0,711.6 L397.6,710.4 L394.1,709.1 L390.5,707.8 L386.8,706.4 L383.1,704.9 L379.5,703.4 L375.9,701.8 L372.2,700.2 L368.5,698.6 L364.7,697.0 L360.7,695.3 L356.7,693.6 L352.8,691.8 L348.7,690.0 L344.6,688.2 L340.4,686.4 L336.1,684.7 L331.8,683.0 L327.4,681.2 L323.1,679.5 L318.8,677.7 L314.4,676.0 L310.0,674.3 L305.6,672.6 L301.2,671.0 L296.9,669.4 L292.7,667.8 L288.4,666.1 L284.3,664.5 L280.2,662.8 L276.1,661.2 L272.2,659.6 L268.4,658.0 L264.6,656.4 L260.9,654.7 L257.1,653.0 L253.3,651.3 L249.5,649.6 L245.7,647.8 L242.0,646.0 L238.3,644.2 L234.6,642.2 L230.8,640.1 L227.1,637.9 L223.3,635.7 L219.6,633.5 L216.1,631.2 L212.6,628.9 L209.1,626.6 L205.6,624.3 L202.0,621.9 L198.5,619.7 L195.0,617.6 L191.7,615.5 L188.5,613.4 L185.3,611.4 L182.1,609.4 L179.0,607.4 L176.0,605.4 L173.1,603.4 L170.2,601.4 L167.4,599.2 L164.5,597.0 L161.7,594.7 L158.8,592.3 L155.9,589.8 L153.0,587.1 L150.0,584.2 L146.9,581.1 L143.8,578.0 L140.8,574.8 L137.7,571.5 L134.6,568.0 L131.4,564.4 L128.2,560.8 L124.9,557.2 L121.8,553.6 L118.8,550.0 L115.8,546.5 L112.8,543.0 L109.9,539.5 L107.0,535.9 L104.2,532.4 L101.5,528.9 L99.0,525.6 L96.5,522.4 L94.1,519.2 L91.7,515.8 L89.4,512.5 L87.0,509.0 L84.7,505.5 L82.3,502.1 L80.0,498.8 L77.7,495.3 L75.5,491.9 L73.2,488.3 L70.9,484.8 L68.7,481.3 L66.5,478.0 L64.5,474.7 L62.6,471.4 L60.7,468.1 L58.9,464.8 L57.1,461.4 L55.4,457.9 L53.7,454.3 L52.1,450.6 L50.6,446.7 L49.0,442.6 L47.5,438.5 L46.0,434.3 L44.6,430.1 L43.2,425.8 L41.9,421.5 L40.7,417.3 L39.5,413.1 L38.3,409.1 L37.1,405.1 L36.0,401.2 L35.0,397.3 L34.0,393.4 L32.9,389.5 L31.9,385.6 L30.9,381.7 L30.0,378.0 L29.2,374.3 L28.4,370.6 L27.8,367.1 L27.2,363.7 L26.8,360.4 L26.4,356.9 L26.0,353.2 L25.8,349.4 L25.6,345.6 L25.5,341.5 L25.5,337.3 L25.6,332.8 L25.8,328.0 L26.0,323.1 L26.4,318.2 L26.9,313.5 L27.2,308.8 L27.6,304.1 L28.1,299.4 L28.8,294.8 L29.5,290.1 L30.1,285.5 L30.8,280.9 L31.5,276.4 L32.4,271.9 L33.4,267.5 L34.7,263.1 L36.1,258.7 L37.7,254.3 L39.3,249.9 L41.0,245.6 L42.9,241.4 L44.8,237.3 L46.8,233.2 L48.8,229.2 L50.9,225.4 L52.8,221.7 L54.7,218.1 L56.7,214.6 L58.7,211.3 L60.7,208.0 L62.6,205.1 L64.5,202.3 L66.6,199.5 L68.8,196.6 L71.1,193.6 L73.5,190.7 L75.9,187.8 L78.4,185.0 L80.8,182.2 L83.4,179.3 L85.9,176.3 L88.5,173.3 L91.1,170.4 L93.6,167.4 L96.2,164.5 L98.7,161.6 L101.2,158.8 L103.7,156.0 L106.2,153.3 L108.7,150.7 L111.3,148.1 L114.0,145.6 L116.7,143.1 L119.4,140.6 L122.3,138.2 L125.2,136.0 L128.2,133.8 L131.2,131.6 L134.3,129.4 L137.5,127.2 L140.8,125.0 L144.1,122.8 L147.5,120.7 L151.1,118.5 L154.8,116.2 L158.8,113.8 L162.9,111.3 L167.2,108.8 L171.6,106.3 L176.0,103.9 L180.5,101.4 L185.1,99.0 L189.8,96.5 L194.5,94.1 L199.0,91.8 L203.5,89.7 L208.0,87.7 L212.5,85.7 L216.9,83.8 L221.2,81.9 L225.4,80.2 L229.4,78.7 L233.4,77.1 L237.5,75.7 L241.6,74.1 L245.7,72.6 L249.9,71.2 L254.2,69.7 L258.5,68.2 L262.8,66.7 L267.0,65.2 L271.2,63.7 L275.4,62.2 L279.5,60.8 L283.8,59.4 L288.1,58.0 L292.5,56.7 L297.0,55.4 L301.8,54.1 L307.2,52.6 L313.4,51.0 L320.2,49.4 L327.4,47.6 L334.7,45.9 L341.7,44.1 L348.7,42.4 L355.7,40.6 L362.6,38.8 L369.1,37.2 L374.9,35.7 L379.9,34.5 L384.4,33.4 L388.4,32.5 L392.2,31.7 L396.0,30.9 L399.7,30.2 L403.1,29.6 L406.5,29.1 L410.1,28.5 L413.9,27.9 L417.8,27.3 L421.9,26.7 L426.1,26.1 L430.4,25.4 L434.8,24.8 L439.4,24.1 L444.1,23.4 L448.9,22.7 L453.5,22.0 L458.0,21.4 L462.2,20.6 L466.3,19.8 L470.2,19.0 L473.9,18.2 L477.6,17.5 L481.2,17.0 L484.8,16.5 L488.3,16.1 L491.9,15.8 L495.4,15.4 L498.9,14.9 L502.4,14.5 L505.9,14.1 L509.3,13.7 L512.6,13.2 L515.7,12.6 L518.5,12.0 L521.3,11.4 L523.9,10.9 L526.6,10.5 L529.3,10.1 L532.0,9.8 L534.6,9.6 L537.3,9.3 L540.1,9.1 L543.0,9.0 L545.9,9.0 L548.9,9.0 L552.1,9.0 L555.4,9.0 L559.2,9.0 L563.5,9.0 L567.8,9.0 L571.4,9.0 L574.0,9.0 Z" fill="#3e429c" opacity="0.6"/>
<path d="M574.0,9.0 L571.4,9.0 L567.8,9.0 L563.5,9.0 L559.2,9.0 L555.4,9.0 L552.1,9.0 L548.9,9.0 L545.9,9.0 L543.0,9.0 L540.1,9.1 L537.3,9.3 L534.6,9.6 L532.0,9.8 L529.3,10.1 L526.6,10.5 L523.9,10.9 L521.3,11.4 L518.5,11.8 L515.6,12.3 L512.5,12.7 L509.3,13.0 L505.9,13.2 L502.4,13.4 L498.9,13.5 L495.4,13.7 L491.8,13.9 L488.3,14.0 L484.7,14.2 L481.1,14.4 L477.4,14.7 L473.7,15.1 L469.8,15.6 L465.9,16.1 L461.8,16.8 L457.5,17.4 L453.0,18.0 L448.3,18.7 L443.5,19.4 L438.8,20.1 L434.2,20.8 L429.8,21.5 L425.5,22.1 L421.3,22.7 L417.2,23.4 L413.2,24.0 L409.5,24.6 L405.9,25.1 L402.5,25.7 L399.0,26.3 L395.2,27.0 L391.4,27.8 L387.6,28.6 L383.5,29.5 L379.0,30.6 L374.0,31.8 L368.1,33.3 L361.7,34.9 L354.8,36.7 L347.7,38.5 L340.8,40.3 L333.8,42.0 L326.5,43.7 L319.3,45.5 L312.4,47.2 L306.2,48.8 L300.8,50.2 L295.9,51.6 L291.3,52.9 L287.0,54.2 L282.6,55.6 L278.2,57.0 L274.0,58.5 L269.9,59.9 L265.7,61.5 L261.5,63.0 L257.2,64.4 L252.9,65.9 L248.6,67.4 L244.4,68.9 L240.2,70.4 L236.1,71.9 L232.0,73.4 L228.0,74.9 L223.9,76.5 L219.7,78.2 L215.3,80.1 L210.9,82.0 L206.4,84.0 L201.9,86.1 L197.3,88.2 L192.7,90.5 L188.0,92.9 L183.3,95.4 L178.6,97.9 L174.1,100.4 L169.7,102.8 L165.2,105.3 L160.9,107.8 L156.7,110.3 L152.8,112.8 L149.0,115.1 L145.4,117.3 L141.9,119.5 L138.6,121.7 L135.3,123.9 L132.0,126.1 L128.9,128.3 L125.8,130.5 L122.8,132.8 L119.8,135.0 L116.9,137.4 L114.0,139.8 L111.2,142.3 L108.4,144.8 L105.6,147.4 L103.0,150.0 L100.4,152.6 L97.9,155.3 L95.3,158.1 L92.6,161.0 L89.9,163.8 L87.2,166.7 L84.5,169.6 L81.9,172.5 L79.2,175.4 L76.6,178.2 L74.0,181.0 L71.5,183.8 L68.9,186.6 L66.4,189.4 L64.0,192.3 L61.7,195.2 L59.5,198.0 L57.3,200.8 L55.1,203.8 L53.1,207.2 L51.0,210.7 L48.9,214.3 L46.8,218.0 L44.8,221.9 L42.7,225.8 L40.6,229.9 L38.6,234.1 L36.6,238.4 L34.7,242.7 L32.9,247.1 L31.2,251.6 L29.6,256.2 L28.1,260.7 L26.7,265.3 L25.7,269.9 L24.8,274.5 L24.0,279.2 L23.2,283.9 L22.6,288.7 L21.9,293.5 L21.2,298.3 L20.7,303.1 L20.2,307.9 L19.9,312.7 L19.4,317.6 L19.1,322.7 L18.8,327.7 L18.6,332.6 L18.5,337.3 L18.5,341.6 L18.6,345.8 L18.8,349.8 L19.0,353.8 L19.4,357.6 L19.8,361.3 L20.3,364.8 L20.9,368.3 L21.6,371.9 L22.3,375.7 L23.2,379.5 L24.1,383.4 L25.1,387.4 L26.1,391.3 L27.3,395.3 L28.3,399.3 L29.3,403.3 L30.5,407.3 L31.7,411.3 L32.9,415.4 L34.1,419.7 L35.4,424.0 L36.7,428.3 L38.1,432.6 L39.5,436.9 L41.0,441.1 L42.6,445.3 L44.2,449.5 L45.8,453.5 L47.4,457.3 L49.1,461.0 L50.9,464.6 L52.7,468.0 L54.6,471.5 L56.5,474.9 L58.5,478.3 L60.6,481.7 L62.8,485.1 L65.0,488.6 L67.3,492.1 L69.6,495.7 L71.9,499.2 L74.2,502.7 L76.5,506.1 L78.9,509.5 L81.3,513.1 L83.7,516.6 L86.1,520.0 L88.6,523.4 L91.1,526.8 L93.6,530.2 L96.3,533.5 L99.1,537.0 L101.9,540.5 L104.8,544.0 L107.8,547.5 L110.8,551.0 L113.9,554.5 L117.0,558.0 L120.1,561.6 L123.4,565.2 L126.7,568.8 L129.9,572.3 L133.1,575.8 L136.3,579.1 L139.5,582.3 L142.6,585.5 L145.8,588.5 L148.9,591.5 L151.9,594.2 L154.9,596.9 L157.9,599.3 L160.8,601.7 L163.7,604.0 L166.7,606.2 L169.7,608.3 L172.7,610.4 L175.7,612.4 L178.9,614.4 L182.2,616.5 L185.4,618.6 L188.6,620.6 L192.0,622.7 L195.4,624.9 L199.0,627.1 L202.5,629.4 L206.0,631.8 L209.5,634.1 L213.1,636.4 L216.7,638.7 L220.4,640.9 L224.2,643.1 L228.0,645.3 L231.8,647.5 L235.5,649.5 L239.3,651.4 L243.1,653.2 L246.9,655.0 L250.8,656.8 L254.6,658.5 L258.4,660.2 L262.2,661.9 L266.0,663.5 L269.9,665.1 L273.8,666.7 L277.9,668.4 L282.0,670.1 L286.2,671.7 L290.5,673.4 L294.8,675.0 L299.1,676.6 L303.5,678.2 L308.0,679.8 L312.5,681.4 L316.9,683.0 L321.3,684.7 L325.7,686.3 L330.1,687.9 L334.5,689.5 L338.8,691.1 L343.0,692.8 L347.1,694.5 L351.2,696.2 L355.2,697.8 L359.2,699.4 L363.2,701.0 L367.1,702.5 L370.9,704.0 L374.6,705.5 L378.3,706.9 L382.1,708.2 L385.9,709.5 L389.6,710.8 L393.3,711.9 L396.9,713.0 L400.4,714.1 L403.9,715.0 L407.5,715.9 L411.0,716.8 L414.4,717.7 L417.7,718.4 L420.9,719.1 L424.1,719.8 L427.3,720.5 L430.4,721.2 L433.4,721.9 L436.3,722.6 L439.1,723.3 L441.8,724.0 L444.6,724.6 L447.4,725.4 L450.2,726.1 L453.0,726.8 L455.8,727.6 L458.8,728.3 L462.0,729.0 L465.3,729.8 L468.8,730.5 L472.3,731.2 L475.8,732.0 L479.4,732.7 L483.1,733.4 L486.7,734.1 L490.4,734.8 L494.1,735.5 L497.9,736.0 L501.7,736.6 L505.6,737.2 L509.4,737.7 L513.2,738.2 L517.0,738.7 L520.9,739.1 L524.7,739.5 L528.5,739.8 L532.0,740.2 L535.3,740.6 L538.4,741.0 L541.4,741.4 L544.2,741.8 L547.0,742.3 L549.7,742.7 L552.2,743.2 L554.5,743.6 L556.8,744.1 L559.3,744.4 L562.3,744.8 L565.8,745.1 L569.2,745.4 L572.2,745.6 L574.3,745.8 L574.3,745.8 L572.2,745.6 L569.2,745.4 L565.8,745.1 L562.3,744.8 L559.3,744.4 L556.8,744.1 L554.5,743.6 L552.2,743.2 L549.7,742.7 L547.0,742.3 L544.2,741.8 L541.4,741.4 L538.4,741.0 L535.3,740.6 L532.0,740.2 L528.5,739.8 L524.7,739.5 L520.9,739.1 L517.0,738.7 L513.2,738.2 L509.4,737.7 L505.6,737.2 L501.7,736.6 L497.9,736.0 L494.1,735.5 L490.4,734.8 L486.7,734.1 L483.1,733.4 L479.4,732.7 L475.8,732.0 L472.3,731.2 L468.8,730.5 L465.3,729.8 L462.0,729.0 L458.8,728.3 L455.8,727.6 L453.0,726.8 L450.2,726.1 L447.4,725.4 L444.6,724.6 L441.8,724.0 L439.1,723.3 L436.3,722.6 L433.4,721.9 L430.4,721.2 L427.3,720.5 L424.1,719.8 L420.9,719.1 L417.7,718.4 L414.4,717.7 L411.0,716.8 L407.5,715.9 L403.9,715.0 L400.4,714.1 L396.9,713.0 L393.3,711.9 L389.6,710.8 L385.9,709.5 L382.1,708.2 L378.3,706.9 L374.6,705.5 L370.9,704.0 L367.1,702.4 L363.3,700.7 L359.3,699.1 L355.4,697.3 L351.4,695.6 L347.4,693.8 L343.3,692.0 L339.1,690.2 L334.8,688.5 L330.5,686.8 L326.1,685.0 L321.8,683.3 L317.4,681.5 L313.0,679.8 L308.6,678.1 L304.2,676.4 L299.8,674.7 L295.5,673.1 L291.2,671.5 L287.0,669.9 L282.8,668.2 L278.7,666.6 L274.6,664.9 L270.7,663.3 L266.8,661.6 L263.0,660.0 L259.3,658.4 L255.5,656.7 L251.6,655.0 L247.8,653.2 L244.0,651.4 L240.2,649.6 L236.4,647.7 L232.7,645.7 L228.9,643.6 L225.1,641.4 L221.4,639.2 L217.7,637.0 L214.1,634.7 L210.6,632.4 L207.0,630.0 L203.5,627.7 L200.0,625.4 L196.5,623.2 L193.0,621.0 L189.7,618.9 L186.4,616.9 L183.2,614.8 L180.0,612.7 L176.8,610.7 L173.8,608.7 L170.8,606.7 L167.9,604.6 L164.9,602.4 L162.0,600.1 L159.1,597.8 L156.2,595.3 L153.3,592.8 L150.2,590.0 L147.2,587.1 L144.1,584.0 L141.0,580.8 L137.9,577.5 L134.8,574.2 L131.6,570.7 L128.4,567.1 L125.2,563.5 L122.0,559.9 L118.9,556.3 L115.8,552.7 L112.8,549.2 L109.9,545.7 L106.9,542.2 L104.1,538.6 L101.2,535.0 L98.5,531.6 L95.9,528.2 L93.4,524.9 L91.0,521.6 L88.5,518.2 L86.1,514.8 L83.7,511.3 L81.4,507.8 L79.0,504.4 L76.7,501.0 L74.4,497.5 L72.1,494.0 L69.8,490.5 L67.5,487.0 L65.3,483.5 L63.1,480.1 L61.1,476.8 L59.1,473.4 L57.2,470.0 L55.4,466.6 L53.6,463.2 L51.8,459.7 L50.1,456.0 L48.5,452.2 L46.9,448.3 L45.3,444.2 L43.8,440.0 L42.2,435.8 L40.9,431.5 L39.5,427.2 L38.2,422.9 L36.9,418.7 L35.8,414.5 L34.5,410.4 L33.3,406.3 L32.2,402.4 L31.1,398.4 L30.1,394.5 L29.0,390.5 L28.0,386.6 L27.0,382.7 L26.1,378.9 L25.3,375.1 L24.5,371.4 L23.9,367.8 L23.3,364.4 L22.8,360.9 L22.4,357.3 L22.0,353.5 L21.8,349.7 L21.6,345.7 L21.5,341.6 L21.5,337.3 L21.6,332.7 L21.8,327.8 L22.0,322.9 L22.4,317.9 L22.9,313.1 L23.2,308.3 L23.7,303.5 L24.2,298.7 L24.8,294.0 L25.5,289.3 L26.2,284.6 L26.9,279.9 L27.7,275.3 L28.6,270.7 L29.6,266.2 L30.9,261.7 L32.4,257.3 L34.0,252.8 L35.7,248.3 L37.4,244.0 L39.3,239.7 L41.2,235.5 L43.3,231.3 L45.3,227.3 L47.4,223.4 L49.4,219.6 L51.4,215.9 L53.4,212.4 L55.5,208.9 L57.5,205.6 L59.5,202.6 L61.5,199.7 L63.6,196.8 L65.8,193.9 L68.1,190.9 L70.6,188.0 L73.0,185.2 L75.4,182.3 L77.9,179.4 L80.5,176.5 L83.0,173.6 L85.6,170.6 L88.2,167.6 L90.8,164.6 L93.4,161.7 L95.9,158.8 L98.4,155.9 L100.9,153.1 L103.4,150.4 L106.0,147.7 L108.6,145.1 L111.4,142.5 L114.1,140.0 L116.9,137.5 L119.8,135.0 L122.8,132.8 L125.8,130.5 L128.9,128.3 L132.0,126.1 L135.3,123.9 L138.6,121.7 L141.9,119.5 L145.4,117.3 L149.0,115.1 L152.8,112.8 L156.7,110.3 L160.9,107.8 L165.2,105.3 L169.7,102.8 L174.1,100.4 L178.6,97.9 L183.3,95.4 L188.0,92.9 L192.7,90.5 L197.3,88.2 L201.9,86.1 L206.4,84.0 L210.9,82.0 L215.3,80.1 L219.7,78.2 L223.9,76.5 L228.0,74.9 L232.0,73.4 L236.1,71.9 L240.2,70.4 L244.4,68.9 L248.6,67.4 L252.9,65.9 L257.2,64.4 L261.5,63.0 L265.7,61.5 L269.9,59.9 L274.0,58.5 L278.2,57.0 L282.6,55.6 L287.0,54.2 L291.3,52.9 L295.9,51.6 L300.8,50.2 L306.2,48.8 L312.4,47.2 L319.3,45.5 L326.5,43.7 L333.8,42.0 L340.8,40.3 L347.7,38.5 L354.8,36.7 L361.7,34.9 L368.1,33.3 L374.0,31.8 L379.0,30.6 L383.5,29.5 L387.6,28.6 L391.4,27.8 L395.2,27.0 L399.0,26.3 L402.5,25.7 L405.9,25.1 L409.5,24.6 L413.2,24.0 L417.2,23.4 L421.3,22.7 L425.5,22.1 L429.8,21.5 L434.2,20.8 L438.8,20.1 L443.5,19.4 L448.3,18.7 L453.0,18.0 L457.5,17.4 L461.8,16.8 L465.9,16.1 L469.8,15.6 L473.7,15.1 L477.4,14.7 L481.1,14.4 L484.7,14.2 L488.3,14.0 L491.8,13.9 L495.4,13.7 L498.9,13.5 L502.4,13.4 L505.9,13.2 L509.3,13.0 L512.5,12.7 L515.6,12.3 L518.5,11.8 L521.3,11.4 L523.9,10.9 L526.6,10.5 L529.3,10.1 L532.0,9.8 L534.6,9.6 L537.3,9.3 L540.1,9.1 L543.0,9.0 L545.9,9.0 L548.9,9.0 L552.1,9.0 L555.4,9.0 L559.2,9.0 L563.5,9.0 L567.8,9.0 L571.4,9.0 L574.0,9.0 Z" fill="#6cb8b8" opacity="0.7"/>
<path d="M574.0,6.0 L571.4,6.0 L567.8,6.0 L563.5,6.0 L559.2,6.0 L555.4,6.0 L552.1,6.0 L548.9,6.0 L545.9,6.0 L542.9,6.0 L540.0,6.1 L537.1,6.3 L534.4,6.4 L531.7,6.6 L529.0,6.9 L526.3,7.1 L523.5,7.4 L520.8,7.7 L518.1,8.0 L515.3,8.3 L512.2,8.6 L509.1,8.8 L505.7,8.9 L502.3,9.0 L498.8,9.1 L495.2,9.2 L491.7,9.3 L488.1,9.4 L484.5,9.5 L480.8,9.7 L477.1,9.9 L473.2,10.3 L469.3,10.7 L465.3,11.1 L461.1,11.6 L456.9,12.2 L452.3,12.8 L447.6,13.4 L442.8,14.1 L438.0,14.7 L433.5,15.4 L429.0,16.0 L424.7,16.7 L420.5,17.3 L416.4,17.9 L412.4,18.5 L408.6,19.1 L405.1,19.7 L401.6,20.2 L398.0,20.8 L394.2,21.6 L390.3,22.3 L386.4,23.1 L382.3,24.0 L377.8,25.0 L372.7,26.2 L366.8,27.6 L360.3,29.1 L353.3,30.8 L346.3,32.5 L339.4,34.2 L332.3,35.8 L325.0,37.5 L317.8,39.2 L310.9,40.9 L304.6,42.5 L299.1,43.9 L294.1,45.3 L289.5,46.7 L285.1,48.0 L280.6,49.4 L276.2,50.9 L271.9,52.3 L267.7,53.8 L263.5,55.3 L259.3,56.8 L255.0,58.3 L250.8,59.8 L246.5,61.3 L242.2,62.8 L238.0,64.3 L233.8,65.8 L229.7,67.3 L225.7,68.9 L221.5,70.5 L217.2,72.2 L212.8,74.0 L208.3,75.9 L203.7,77.9 L199.1,80.0 L194.5,82.1 L189.8,84.3 L184.9,86.7 L180.1,89.1 L175.3,91.5 L170.7,94.0 L166.2,96.4 L161.6,98.9 L157.2,101.4 L153.0,103.9 L148.9,106.3 L145.0,108.7 L141.4,110.9 L137.9,113.2 L134.5,115.4 L131.1,117.7 L127.8,120.0 L124.5,122.2 L121.4,124.5 L118.3,126.8 L115.2,129.1 L112.2,131.5 L109.2,133.9 L106.2,136.4 L103.3,138.9 L100.4,141.5 L97.5,144.1 L94.8,146.7 L92.0,149.4 L89.3,152.1 L86.5,154.9 L83.7,157.7 L80.9,160.6 L78.2,163.4 L75.4,166.3 L72.7,169.2 L70.0,172.1 L67.4,174.9 L64.8,177.7 L62.2,180.6 L59.7,183.4 L57.2,186.3 L54.7,189.0 L52.3,191.9 L49.8,194.8 L47.4,198.0 L44.9,201.3 L42.4,204.8 L40.0,208.4 L37.6,212.2 L35.2,216.1 L32.8,220.2 L30.5,224.4 L28.2,228.7 L25.9,233.2 L23.8,237.6 L21.7,242.2 L19.7,246.9 L17.8,251.6 L16.0,256.4 L14.4,261.2 L12.9,266.0 L11.5,270.9 L10.2,275.8 L9.0,280.7 L7.9,285.7 L6.9,290.7 L6.0,295.7 L5.3,300.8 L4.6,305.9 L4.0,311.1 L3.5,316.3 L3.1,321.6 L2.8,326.9 L2.6,332.1 L2.5,337.1 L2.5,341.8 L2.6,346.3 L2.8,350.7 L3.1,355.0 L3.5,359.2 L3.9,363.3 L4.5,367.2 L5.1,371.1 L5.9,375.0 L6.7,379.0 L7.6,383.1 L8.5,387.2 L9.6,391.4 L10.7,395.6 L11.9,399.7 L13.1,403.9 L14.4,408.0 L15.7,412.1 L17.1,416.3 L18.6,420.5 L20.1,424.8 L21.7,429.1 L23.3,433.4 L25.0,437.8 L26.7,442.0 L28.4,446.3 L30.2,450.5 L32.0,454.7 L33.8,458.8 L35.6,462.9 L37.5,466.7 L39.3,470.5 L41.2,474.1 L43.2,477.8 L45.2,481.4 L47.4,485.0 L49.6,488.6 L51.8,492.1 L54.1,495.7 L56.4,499.2 L58.7,502.8 L61.0,506.3 L63.4,509.9 L65.8,513.4 L68.3,517.0 L70.8,520.5 L73.3,524.1 L75.9,527.6 L78.6,531.2 L81.4,534.6 L84.2,538.1 L87.2,541.5 L90.2,544.9 L93.2,548.3 L96.3,551.7 L99.4,555.1 L102.5,558.6 L105.6,562.0 L108.8,565.5 L112.0,569.0 L115.2,572.6 L118.5,576.2 L121.8,579.8 L125.1,583.3 L128.4,586.8 L131.7,590.1 L134.9,593.3 L138.2,596.5 L141.4,599.5 L144.6,602.5 L147.7,605.2 L150.9,607.8 L153.9,610.3 L157.1,612.7 L160.2,615.1 L163.4,617.4 L166.6,619.5 L169.8,621.6 L173.0,623.7 L176.3,625.8 L179.7,627.9 L183.1,629.9 L186.6,632.0 L190.1,634.0 L193.6,636.1 L197.2,638.2 L200.8,640.4 L204.5,642.6 L208.2,644.8 L212.0,647.0 L215.8,649.1 L219.7,651.3 L223.6,653.4 L227.6,655.5 L231.5,657.5 L235.4,659.5 L239.3,661.4 L243.2,663.2 L247.1,665.0 L250.9,666.7 L254.8,668.4 L258.7,670.1 L262.5,671.8 L266.4,673.4 L270.4,675.1 L274.5,676.7 L278.7,678.4 L283.0,680.1 L287.3,681.8 L291.6,683.4 L296.0,685.1 L300.4,686.7 L304.9,688.3 L309.4,689.9 L313.9,691.5 L318.4,693.1 L322.8,694.6 L327.3,696.1 L331.7,697.6 L336.0,699.1 L340.2,700.6 L344.4,702.1 L348.6,703.6 L352.6,705.1 L356.7,706.5 L360.6,707.9 L364.5,709.4 L368.4,710.8 L372.2,712.2 L376.1,713.5 L380.0,714.8 L383.8,716.0 L387.7,717.2 L391.5,718.3 L395.3,719.3 L399.0,720.2 L402.7,721.0 L406.3,721.7 L409.9,722.4 L413.3,723.1 L416.7,723.7 L420.0,724.3 L423.2,724.9 L426.3,725.5 L429.4,726.1 L432.3,726.8 L435.1,727.4 L437.9,728.1 L440.6,728.8 L443.4,729.5 L446.2,730.2 L449.0,730.9 L451.8,731.6 L454.8,732.3 L457.8,732.9 L461.1,733.6 L464.5,734.2 L468.0,734.9 L471.5,735.5 L475.1,736.2 L478.7,736.8 L482.3,737.5 L486.0,738.1 L489.7,738.8 L493.5,739.4 L497.3,740.0 L501.2,740.6 L505.0,741.2 L508.9,741.7 L512.7,742.2 L516.6,742.7 L520.5,743.1 L524.3,743.4 L528.1,743.8 L531.6,744.2 L534.8,744.6 L537.9,745.0 L540.8,745.4 L543.7,745.8 L546.4,746.2 L549.0,746.6 L551.4,747.1 L553.8,747.6 L556.2,748.0 L558.8,748.4 L561.9,748.8 L565.4,749.1 L568.9,749.4 L571.9,749.6 L574.0,749.8 L574.3,745.8 L572.2,745.6 L569.2,745.4 L565.8,745.1 L562.3,744.8 L559.3,744.4 L556.8,744.1 L554.5,743.6 L552.2,743.2 L549.7,742.7 L547.0,742.3 L544.2,741.8 L541.4,741.4 L538.4,741.0 L535.3,740.6 L532.0,740.2 L528.5,739.8 L524.7,739.5 L520.9,739.1 L517.0,738.7 L513.2,738.2 L509.4,737.7 L505.6,737.2 L501.7,736.6 L497.9,736.0 L494.1,735.5 L490.4,734.8 L486.7,734.1 L483.1,733.4 L479.4,732.7 L475.8,732.0 L472.3,731.2 L468.8,730.5 L465.3,729.8 L462.0,729.0 L458.8,728.3 L455.8,727.6 L453.0,726.8 L450.2,726.1 L447.4,725.4 L444.6,724.6 L441.8,724.0 L439.1,723.3 L436.3,722.6 L433.4,721.9 L430.4,721.2 L427.3,720.5 L424.1,719.8 L420.9,719.1 L417.7,718.4 L414.4,717.7 L411.0,716.8 L407.5,715.9 L403.9,715.0 L400.4,714.1 L396.9,713.0 L393.3,711.9 L389.6,710.8 L385.9,709.5 L382.1,708.2 L378.3,706.9 L374.6,705.5 L370.9,704.0 L367.1,702.5 L363.2,701.0 L359.2,699.4 L355.2,697.8 L351.2,696.2 L347.1,694.5 L343.0,692.8 L338.8,691.1 L334.5,689.5 L330.1,687.9 L325.7,686.3 L321.3,684.7 L316.9,683.0 L312.5,681.4 L308.0,679.8 L303.5,678.2 L299.1,676.6 L294.8,675.0 L290.5,673.4 L286.2,671.7 L282.0,670.1 L277.9,668.4 L273.8,666.7 L269.9,665.1 L266.0,663.5 L262.2,661.9 L258.4,660.2 L254.6,658.5 L250.8,656.8 L246.9,655.0 L243.1,653.2 L239.3,651.4 L235.5,649.5 L231.8,647.5 L228.0,645.3 L224.2,643.1 L220.4,640.9 L216.7,638.7 L213.1,636.4 L209.5,634.1 L206.0,631.8 L202.5,629.4 L199.0,627.1 L195.4,624.9 L192.0,622.7 L188.6,620.6 L185.4,618.6 L182.2,616.5 L178.9,614.4 L175.7,612.4 L172.7,610.4 L169.7,608.3 L166.7,606.2 L163.7,604.0 L160.8,601.7 L157.9,599.3 L154.9,596.9 L151.9,594.2 L148.9,591.5 L145.8,588.5 L142.6,585.5 L139.5,582.3 L136.3,579.1 L133.1,575.8 L129.9,572.3 L126.7,568.8 L123.4,565.2 L120.1,561.6 L117.0,558.0 L113.9,554.5 L110.8,551.0 L107.8,547.5 L104.8,544.0 L101.9,540.5 L99.1,537.0 L96.3,533.5 L93.6,530.2 L91.1,526.8 L88.6,523.4 L86.1,520.0 L83.7,516.6 L81.3,513.1 L78.9,509.5 L76.5,506.1 L74.2,502.7 L71.9,499.2 L69.6,495.7 L67.3,492.1 L65.0,488.6 L62.8,485.1 L60.6,481.7 L58.5,478.3 L56.5,474.9 L54.6,471.5 L52.7,468.0 L50.9,464.6 L49.1,461.0 L47.4,457.3 L45.8,453.5 L44.2,449.5 L42.6,445.3 L41.0,441.1 L39.5,436.9 L38.1,432.6 L36.7,428.3 L35.4,424.0 L34.1,419.7 L32.9,415.4 L31.7,411.3 L30.5,407.3 L29.3,403.3 L28.3,399.3 L27.3,395.3 L26.1,391.3 L25.1,387.4 L24.1,383.4 L23.2,379.5 L22.3,375.7 L21.6,371.9 L20.9,368.3 L20.3,364.8 L19.8,361.3 L19.4,357.6 L19.0,353.8 L18.8,349.8 L18.6,345.8 L18.5,341.6 L18.5,337.3 L18.6,332.6 L18.8,327.7 L19.1,322.7 L19.4,317.6 L19.9,312.7 L20.2,307.9 L20.7,303.1 L21.2,298.3 L21.9,293.5 L22.6,288.7 L23.2,283.9 L24.0,279.2 L24.8,274.5 L25.7,269.9 L26.7,265.3 L28.1,260.7 L29.6,256.2 L31.2,251.6 L32.9,247.1 L34.7,242.7 L36.6,238.4 L38.6,234.1 L40.6,229.9 L42.7,225.8 L44.8,221.9 L46.8,218.0 L48.9,214.3 L51.0,210.7 L53.1,207.2 L55.1,203.8 L57.3,200.8 L59.5,198.0 L61.7,195.2 L64.0,192.3 L66.4,189.4 L68.9,186.6 L71.5,183.8 L74.0,181.0 L76.6,178.2 L79.2,175.4 L81.9,172.5 L84.5,169.6 L87.2,166.7 L89.9,163.8 L92.6,161.0 L95.3,158.1 L97.9,155.3 L100.4,152.6 L103.0,150.0 L105.6,147.4 L108.4,144.8 L111.2,142.3 L114.0,139.8 L116.9,137.4 L119.8,135.0 L122.8,132.8 L125.8,130.5 L128.9,128.3 L132.0,126.1 L135.3,123.9 L138.6,121.7 L141.9,119.5 L145.4,117.3 L149.0,115.1 L152.8,112.8 L156.7,110.3 L160.9,107.8 L165.2,105.3 L169.7,102.8 L174.1,100.4 L178.6,97.9 L183.3,95.4 L188.0,92.9 L192.7,90.5 L197.3,88.2 L201.9,86.1 L206.4,84.0 L210.9,82.0 L215.3,80.1 L219.7,78.2 L223.9,76.5 L228.0,74.9 L232.0,73.4 L236.1,71.9 L240.2,70.4 L244.4,68.9 L248.6,67.4 L252.9,65.9 L257.2,64.4 L261.5,63.0 L265.7,61.5 L269.9,59.9 L274.0,58.5 L278.2,57.0 L282.6,55.6 L287.0,54.2 L291.3,52.9 L295.9,51.6 L300.8,50.2 L306.2,48.8 L312.4,47.2 L319.3,45.5 L326.5,43.7 L333.8,42.0 L340.8,40.3 L347.7,38.5 L354.8,36.7 L361.7,34.9 L368.1,33.3 L374.0,31.8 L379.0,30.6 L383.5,29.5 L387.6,28.6 L391.4,27.8 L395.2,27.0 L399.0,26.3 L402.5,25.7 L405.9,25.1 L409.5,24.6 L413.2,24.0 L417.2,23.4 L421.3,22.7 L425.5,22.1 L429.8,21.5 L434.2,20.8 L438.8,20.1 L443.5,19.4 L448.3,18.7 L453.0,18.0 L457.5,17.4 L461.8,16.8 L465.9,16.1 L469.8,15.6 L473.7,15.1 L477.4,14.7 L481.1,14.4 L484.7,14.2 L488.3,14.0 L491.8,13.9 L495.4,13.7 L498.9,13.5 L502.4,13.4 L505.9,13.2 L509.3,13.0 L512.5,12.7 L515.6,12.3 L518.5,11.8 L521.3,11.4 L523.9,10.9 L526.6,10.5 L529.3,10.1 L532.0,9.8 L534.6,9.6 L537.3,9.3 L540.1,9.1 L543.0,9.0 L545.9,9.0 L548.9,9.0 L552.1,9.0 L555.4,9.0 L559.2,9.0 L563.5,9.0 L567.8,9.0 L571.4,9.0 L574.0,9.0 Z" fill="#f4e030"/>
<path d="M574.0,6.0 L571.4,6.0 L571.4,9.0 L574.0,9.0 Z" fill="#5c8ed2" stroke="#5c8ed2" stroke-width="0.5"/>
<path d="M571.4,6.0 L567.8,6.0 L567.8,9.0 L571.4,9.0 Z" fill="#5c8ed2" stroke="#5c8ed2" stroke-width="0.5"/>
<path d="M567.8,6.0 L563.5,6.0 L563.5,9.0 L567.8,9.0 Z" fill="#5c8ed2" stroke="#5c8ed2" stroke-width="0.5"/>
<path d="M563.5,6.0 L559.2,6.0 L559.2,9.0 L563.5,9.0 Z" fill="#5c8ed2" stroke="#5c8ed2" stroke-width="0.5"/>
<path d="M559.2,6.0 L555.4,6.0 L555.4,9.0 L559.2,9.0 Z" fill="#5c8ed2" stroke="#5c8ed2" stroke-width="0.5"/>
<path d="M555.4,6.0 L552.1,6.0 L552.1,9.0 L555.4,9.0 Z" fill="#5c8ed2" stroke="#5c8ed2" stroke-width="0.5"/>
<path d="M552.1,6.0 L548.9,6.0 L548.9,9.0 L552.1,9.0 Z" fill="#5c8ed2" stroke="#5c8ed2" stroke-width="0.5"/>
<path d="M548.9,6.0 L545.9,6.0 L545.9,9.0 L548.9,9.0 Z" fill="#5c8ed2" stroke="#5c8ed2" stroke-width="0.5"/>
<path d="M545.9,6.0 L542.9,6.0 L543.0,9.0 L545.9,9.0 Z" fill="#5c8ed2" stroke="#5c8ed2" stroke-width="0.5"/>
<path d="M542.9,6.0 L540.0,6.1 L540.1,9.1 L543.0,9.0 Z" fill="#5c8ed2" stroke="#5c8ed2" stroke-width="0.5"/>
<path d="M540.0,6.1 L537.1,6.3 L537.3,9.3 L540.1,9.1 Z" fill="#5c8ed2" stroke="#5c8ed2" stroke-width="0.5"/>
<path d="M537.1,6.3 L534.4,6.4 L534.6,9.6 L537.3,9.3 Z" fill="#5f93d2" stroke="#5f93d2" stroke-width="0.5"/>
<path d="M534.4,6.4 L531.7,6.6 L532.0,9.8 L534.6,9.6 Z" fill="#6298d1" stroke="#6298d1" stroke-width="0.5"/>
<path d="M531.7,6.6 L529.0,6.9 L529.3,10.1 L532.0,9.8 Z" fill="#649cd1" stroke="#649cd1" stroke-width="0.5"/>
<path d="M529.0,6.9 L526.3,7.1 L526.6,10.5 L529.3,10.1 Z" fill="#67a1d0" stroke="#67a1d0" stroke-width="0.5"/>
<path d="M526.3,7.1 L523.5,7.4 L523.9,10.9 L526.6,10.5 Z" fill="#6aa6d0" stroke="#6aa6d0" stroke-width="0.5"/>
<path d="M523.5,7.4 L520.8,7.7 L521.3,11.4 L523.9,10.9 Z" fill="#76adbc" stroke="#76adbc" stroke-width="0.5"/>
<path d="M520.8,7.7 L518.1,8.0 L518.5,11.8 L521.3,11.4 Z" fill="#81b4a8" stroke="#81b4a8" stroke-width="0.5"/>
<path d="M518.1,8.0 L515.3,8.3 L515.6,12.3 L518.5,11.8 Z" fill="#8dba94" stroke="#8dba94" stroke-width="0.5"/>
<path d="M515.3,8.3 L512.2,8.6 L512.5,12.7 L515.6,12.3 Z" fill="#98c180" stroke="#98c180" stroke-width="0.5"/>
<path d="M512.2,8.6 L509.1,8.8 L509.3,13.0 L512.5,12.7 Z" fill="#a4c86c" stroke="#a4c86c" stroke-width="0.5"/>
<path d="M509.1,8.8 L505.7,8.9 L505.9,13.2 L509.3,13.0 Z" fill="#abc966" stroke="#abc966" stroke-width="0.5"/>
<path d="M505.7,8.9 L502.3,9.0 L502.4,13.4 L505.9,13.2 Z" fill="#b2ca61" stroke="#b2ca61" stroke-width="0.5"/>
<path d="M502.3,9.0 L498.8,9.1 L498.9,13.5 L502.4,13.4 Z" fill="#baca5b" stroke="#baca5b" stroke-width="0.5"/>
<path d="M498.8,9.1 L495.2,9.2 L495.4,13.7 L498.9,13.5 Z" fill="#c1cb56" stroke="#c1cb56" stroke-width="0.5"/>
<path d="M495.2,9.2 L491.7,9.3 L491.8,13.9 L495.4,13.7 Z" fill="#c8cc50" stroke="#c8cc50" stroke-width="0.5"/>
<path d="M491.7,9.3 L488.1,9.4 L488.3,14.0 L491.8,13.9 Z" fill="#cbcc4e" stroke="#cbcc4e" stroke-width="0.5"/>
<path d="M488.1,9.4 L484.5,9.5 L484.7,14.2 L488.3,14.0 Z" fill="#cecc4d" stroke="#cecc4d" stroke-width="0.5"/>
<path d="M484.5,9.5 L480.8,9.7 L481.1,14.4 L484.7,14.2 Z" fill="#d2cc4b" stroke="#d2cc4b" stroke-width="0.5"/>
<path d="M480.8,9.7 L477.1,9.9 L477.4,14.7 L481.1,14.4 Z" fill="#d5cc4a" stroke="#d5cc4a" stroke-width="0.5"/>
<path d="M477.1,9.9 L473.2,10.3 L473.7,15.1 L477.4,14.7 Z" fill="#d8cc48" stroke="#d8cc48" stroke-width="0.5"/>
<path d="M473.2,10.3 L469.3,10.7 L469.8,15.6 L473.7,15.1 Z" fill="#dbcb46" stroke="#dbcb46" stroke-width="0.5"/>
<path d="M469.3,10.7 L465.3,11.1 L465.9,16.1 L469.8,15.6 Z" fill="#deca45" stroke="#deca45" stroke-width="0.5"/>
<path d="M465.3,11.1 L461.1,11.6 L461.8,16.8 L465.9,16.1 Z" fill="#e2ca43" stroke="#e2ca43" stroke-width="0.5"/>
<path d="M461.1,11.6 L456.9,12.2 L457.5,17.4 L461.8,16.8 Z" fill="#e5c942" stroke="#e5c942" stroke-width="0.5"/>
<path d="M456.9,12.2 L452.3,12.8 L453.0,18.0 L457.5,17.4 Z" fill="#e8c840" stroke="#e8c840" stroke-width="0.5"/>
<path d="M452.3,12.8 L447.6,13.4 L448.3,18.7 L453.0,18.0 Z" fill="#e9c840" stroke="#e9c840" stroke-width="0.5"/>
<path d="M447.6,13.4 L442.8,14.1 L443.5,19.4 L448.3,18.7 Z" fill="#eac83f" stroke="#eac83f" stroke-width="0.5"/>
<path d="M442.8,14.1 L438.0,14.7 L438.8,20.1 L443.5,19.4 Z" fill="#eac83f" stroke="#eac83f" stroke-width="0.5"/>
<path d="M438.0,14.7 L433.5,15.4 L434.2,20.8 L438.8,20.1 Z" fill="#ebc83e" stroke="#ebc83e" stroke-width="0.5"/>
<path d="M433.5,15.4 L429.0,16.0 L429.8,21.5 L434.2,20.8 Z" fill="#ecc83e" stroke="#ecc83e" stroke-width="0.5"/>
<path d="M429.0,16.0 L424.7,16.7 L425.5,22.1 L429.8,21.5 Z" fill="#ecc93e" stroke="#ecc93e" stroke-width="0.5"/>
<path d="M424.7,16.7 L420.5,17.3 L421.3,22.7 L425.5,22.1 Z" fill="#ecca3d" stroke="#ecca3d" stroke-width="0.5"/>
<path d="M420.5,17.3 L416.4,17.9 L417.2,23.4 L421.3,22.7 Z" fill="#ecca3d" stroke="#ecca3d" stroke-width="0.5"/>
<path d="M416.4,17.9 L412.4,18.5 L413.2,24.0 L417.2,23.4 Z" fill="#eccb3c" stroke="#eccb3c" stroke-width="0.5"/>
<path d="M412.4,18.5 L408.6,19.1 L409.5,24.6 L413.2,24.0 Z" fill="#eccc3c" stroke="#eccc3c" stroke-width="0.5"/>
<path d="M408.6,19.1 L405.1,19.7 L405.9,25.1 L409.5,24.6 Z" fill="#edcd3b" stroke="#edcd3b" stroke-width="0.5"/>
<path d="M405.1,19.7 L401.6,20.2 L402.5,25.7 L405.9,25.1 Z" fill="#eece3a" stroke="#eece3a" stroke-width="0.5"/>
<path d="M401.6,20.2 L398.0,20.8 L399.0,26.3 L402.5,25.7 Z" fill="#eece3a" stroke="#eece3a" stroke-width="0.5"/>
<path d="M398.0,20.8 L394.2,21.6 L395.2,27.0 L399.0,26.3 Z" fill="#efcf39" stroke="#efcf39" stroke-width="0.5"/>
<path d="M394.2,21.6 L390.3,22.3 L391.4,27.8 L395.2,27.0 Z" fill="#f0d038" stroke="#f0d038" stroke-width="0.5"/>
<path d="M390.3,22.3 L386.4,23.1 L387.6,28.6 L391.4,27.8 Z" fill="#f0d038" stroke="#f0d038" stroke-width="0.5"/>
<path d="M386.4,23.1 L382.3,24.0 L383.5,29.5 L387.6,28.6 Z" fill="#f0d137" stroke="#f0d137" stroke-width="0.5"/>
<path d="M382.3,24.0 L377.8,25.0 L379.0,30.6 L383.5,29.5 Z" fill="#f0d137" stroke="#f0d137" stroke-width="0.5"/>
<path d="M377.8,25.0 L372.7,26.2 L374.0,31.8 L379.0,30.6 Z" fill="#f0d236" stroke="#f0d236" stroke-width="0.5"/>
<path d="M372.7,26.2 L366.8,27.6 L368.1,33.3 L374.0,31.8 Z" fill="#f0d236" stroke="#f0d236" stroke-width="0.5"/>
<path d="M366.8,27.6 L360.3,29.1 L361.7,34.9 L368.1,33.3 Z" fill="#f0d336" stroke="#f0d336" stroke-width="0.5"/>
<path d="M360.3,29.1 L353.3,30.8 L354.8,36.7 L361.7,34.9 Z" fill="#f0d435" stroke="#f0d435" stroke-width="0.5"/>
<path d="M353.3,30.8 L346.3,32.5 L347.7,38.5 L354.8,36.7 Z" fill="#f1d635" stroke="#f1d635" stroke-width="0.5"/>
<path d="M346.3,32.5 L339.4,34.2 L340.8,40.3 L347.7,38.5 Z" fill="#f1d734" stroke="#f1d734" stroke-width="0.5"/>
<path d="M339.4,34.2 L332.3,35.8 L333.8,42.0 L340.8,40.3 Z" fill="#f1d834" stroke="#f1d834" stroke-width="0.5"/>
<path d="M332.3,35.8 L325.0,37.5 L326.5,43.7 L333.8,42.0 Z" fill="#f1d834" stroke="#f1d834" stroke-width="0.5"/>
<path d="M325.0,37.5 L317.8,39.2 L319.3,45.5 L326.5,43.7 Z" fill="#f1d834" stroke="#f1d834" stroke-width="0.5"/>
<path d="M317.8,39.2 L310.9,40.9 L312.4,47.2 L319.3,45.5 Z" fill="#f1d834" stroke="#f1d834" stroke-width="0.5"/>
<path d="M310.9,40.9 L304.6,42.5 L306.2,48.8 L312.4,47.2 Z" fill="#f1d834" stroke="#f1d834" stroke-width="0.5"/>
<path d="M304.6,42.5 L299.1,43.9 L300.8,50.2 L306.2,48.8 Z" fill="#f1d834" stroke="#f1d834" stroke-width="0.5"/>
<path d="M299.1,43.9 L294.1,45.3 L295.9,51.6 L300.8,50.2 Z" fill="#f1d834" stroke="#f1d834" stroke-width="0.5"/>
<path d="M294.1,45.3 L289.5,46.7 L291.3,52.9 L295.9,51.6 Z" fill="#f1d834" stroke="#f1d834" stroke-width="0.5"/>
<path d="M289.5,46.7 L285.1,48.0 L287.0,54.2 L291.3,52.9 Z" fill="#f1d834" stroke="#f1d834" stroke-width="0.5"/>
<path d="M285.1,48.0 L280.6,49.4 L282.6,55.6 L287.0,54.2 Z" fill="#f1d834" stroke="#f1d834" stroke-width="0.5"/>
<path d="M280.6,49.4 L276.2,50.9 L278.2,57.0 L282.6,55.6 Z" fill="#f1d834" stroke="#f1d834" stroke-width="0.5"/>
<path d="M276.2,50.9 L271.9,52.3 L274.0,58.5 L278.2,57.0 Z" fill="#f1d834" stroke="#f1d834" stroke-width="0.5"/>
<path d="M271.9,52.3 L267.7,53.8 L269.9,59.9 L274.0,58.5 Z" fill="#f1d834" stroke="#f1d834" stroke-width="0.5"/>
<path d="M267.7,53.8 L263.5,55.3 L265.7,61.5 L269.9,59.9 Z" fill="#f1d834" stroke="#f1d834" stroke-width="0.5"/>
<path d="M263.5,55.3 L259.3,56.8 L261.5,63.0 L265.7,61.5 Z" fill="#f1d834" stroke="#f1d834" stroke-width="0.5"/>
<path d="M259.3,56.8 L255.0,58.3 L257.2,64.4 L261.5,63.0 Z" fill="#f1d834" stroke="#f1d834" stroke-width="0.5"/>
<path d="M255.0,58.3 L250.8,59.8 L252.9,65.9 L257.2,64.4 Z" fill="#f1d834" stroke="#f1d834" stroke-width="0.5"/>
<path d="M250.8,59.8 L246.5,61.3 L248.6,67.4 L252.9,65.9 Z" fill="#f1d834" stroke="#f1d834" stroke-width="0.5"/>
<path d="M246.5,61.3 L242.2,62.8 L244.4,68.9 L248.6,67.4 Z" fill="#f1d834" stroke="#f1d834" stroke-width="0.5"/>
<path d="M242.2,62.8 L238.0,64.3 L240.2,70.4 L244.4,68.9 Z" fill="#f1d834" stroke="#f1d834" stroke-width="0.5"/>
<path d="M238.0,64.3 L233.8,65.8 L236.1,71.9 L240.2,70.4 Z" fill="#f1d834" stroke="#f1d834" stroke-width="0.5"/>
<path d="M233.8,65.8 L229.7,67.3 L232.0,73.4 L236.1,71.9 Z" fill="#f1d834" stroke="#f1d834" stroke-width="0.5"/>
<path d="M229.7,67.3 L225.7,68.9 L228.0,74.9 L232.0,73.4 Z" fill="#f1d834" stroke="#f1d834" stroke-width="0.5"/>
<path d="M225.7,68.9 L221.5,70.5 L223.9,76.5 L228.0,74.9 Z" fill="#f1d834" stroke="#f1d834" stroke-width="0.5"/>
<path d="M221.5,70.5 L217.2,72.2 L219.7,78.2 L223.9,76.5 Z" fill="#f1d834" stroke="#f1d834" stroke-width="0.5"/>
<path d="M217.2,72.2 L212.8,74.0 L215.3,80.1 L219.7,78.2 Z" fill="#f1d834" stroke="#f1d834" stroke-width="0.5"/>
<path d="M212.8,74.0 L208.3,75.9 L210.9,82.0 L215.3,80.1 Z" fill="#f1d834" stroke="#f1d834" stroke-width="0.5"/>
<path d="M208.3,75.9 L203.7,77.9 L206.4,84.0 L210.9,82.0 Z" fill="#f1d834" stroke="#f1d834" stroke-width="0.5"/>
<path d="M203.7,77.9 L199.1,80.0 L201.9,86.1 L206.4,84.0 Z" fill="#f1d834" stroke="#f1d834" stroke-width="0.5"/>
<path d="M199.1,80.0 L194.5,82.1 L197.3,88.2 L201.9,86.1 Z" fill="#f1d834" stroke="#f1d834" stroke-width="0.5"/>
<path d="M194.5,82.1 L189.8,84.3 L192.7,90.5 L197.3,88.2 Z" fill="#f1d834" stroke="#f1d834" stroke-width="0.5"/>
<path d="M189.8,84.3 L184.9,86.7 L188.0,92.9 L192.7,90.5 Z" fill="#f2da33" stroke="#f2da33" stroke-width="0.5"/>
<path d="M184.9,86.7 L180.1,89.1 L183.3,95.4 L188.0,92.9 Z" fill="#f2db32" stroke="#f2db32" stroke-width="0.5"/>
<path d="M180.1,89.1 L175.3,91.5 L178.6,97.9 L183.3,95.4 Z" fill="#f3dd32" stroke="#f3dd32" stroke-width="0.5"/>
<path d="M175.3,91.5 L170.7,94.0 L174.1,100.4 L178.6,97.9 Z" fill="#f3de31" stroke="#f3de31" stroke-width="0.5"/>
<path d="M235.4,659.5 L239.3,661.4 L243.1,653.2 L239.3,651.4 Z" fill="#f4df30" stroke="#f4df30" stroke-width="0.5"/>
<path d="M239.3,661.4 L243.2,663.2 L246.9,655.0 L243.1,653.2 Z" fill="#f3de30" stroke="#f3de30" stroke-width="0.5"/>
<path d="M243.2,663.2 L247.1,665.0 L250.8,656.8 L246.9,655.0 Z" fill="#f3de30" stroke="#f3de30" stroke-width="0.5"/>
<path d="M247.1,665.0 L250.9,666.7 L254.6,658.5 L250.8,656.8 Z" fill="#f2dd30" stroke="#f2dd30" stroke-width="0.5"/>
<path d="M250.9,666.7 L254.8,668.4 L258.4,660.2 L254.6,658.5 Z" fill="#f2dc30" stroke="#f2dc30" stroke-width="0.5"/>
<path d="M254.8,668.4 L258.7,670.1 L262.2,661.9 L258.4,660.2 Z" fill="#f2dc30" stroke="#f2dc30" stroke-width="0.5"/>
<path d="M258.7,670.1 L262.5,671.8 L266.0,663.5 L262.2,661.9 Z" fill="#f2dc30" stroke="#f2dc30" stroke-width="0.5"/>
<path d="M262.5,671.8 L266.4,673.4 L269.9,665.1 L266.0,663.5 Z" fill="#f2dc30" stroke="#f2dc30" stroke-width="0.5"/>
<path d="M266.4,673.4 L270.4,675.1 L273.8,666.7 L269.9,665.1 Z" fill="#f2dc30" stroke="#f2dc30" stroke-width="0.5"/>
<path d="M270.4,675.1 L274.5,676.7 L277.9,668.4 L273.8,666.7 Z" fill="#f2dc30" stroke="#f2dc30" stroke-width="0.5"/>
<path d="M274.5,676.7 L278.7,678.4 L282.0,670.1 L277.9,668.4 Z" fill="#f2dc30" stroke="#f2dc30" stroke-width="0.5"/>
<path d="M278.7,678.4 L283.0,680.1 L286.2,671.7 L282.0,670.1 Z" fill="#f2dc30" stroke="#f2dc30" stroke-width="0.5"/>
<path d="M283.0,680.1 L287.3,681.8 L290.5,673.4 L286.2,671.7 Z" fill="#f2dc30" stroke="#f2dc30" stroke-width="0.5"/>
<path d="M287.3,681.8 L291.6,683.4 L294.8,675.0 L290.5,673.4 Z" fill="#f2dc30" stroke="#f2dc30" stroke-width="0.5"/>
<path d="M291.6,683.4 L296.0,685.1 L299.1,676.6 L294.8,675.0 Z" fill="#f2dc30" stroke="#f2dc30" stroke-width="0.5"/>
<path d="M296.0,685.1 L300.4,686.7 L303.5,678.2 L299.1,676.6 Z" fill="#f2dc30" stroke="#f2dc30" stroke-width="0.5"/>
<path d="M300.4,686.7 L304.9,688.3 L308.0,679.8 L303.5,678.2 Z" fill="#f2dc30" stroke="#f2dc30" stroke-width="0.5"/>
<path d="M304.9,688.3 L309.4,689.9 L312.5,681.4 L308.0,679.8 Z" fill="#f2dc30" stroke="#f2dc30" stroke-width="0.5"/>
<path d="M309.4,689.9 L313.9,691.5 L316.9,683.0 L312.5,681.4 Z" fill="#f2dc30" stroke="#f2dc30" stroke-width="0.5"/>
<path d="M313.9,691.5 L318.4,693.1 L321.3,684.7 L316.9,683.0 Z" fill="#f2dc30" stroke="#f2dc30" stroke-width="0.5"/>
<path d="M318.4,693.1 L322.8,694.6 L325.7,686.3 L321.3,684.7 Z" fill="#f2dc30" stroke="#f2dc30" stroke-width="0.5"/>
<path d="M322.8,694.6 L327.3,696.1 L330.1,687.9 L325.7,686.3 Z" fill="#f2dc30" stroke="#f2dc30" stroke-width="0.5"/>
<path d="M327.3,696.1 L331.7,697.6 L334.5,689.5 L330.1,687.9 Z" fill="#f2dc30" stroke="#f2dc30" stroke-width="0.5"/>
<path d="M331.7,697.6 L336.0,699.1 L338.8,691.1 L334.5,689.5 Z" fill="#f2dc30" stroke="#f2dc30" stroke-width="0.5"/>
<path d="M336.0,699.1 L340.2,700.6 L343.0,692.8 L338.8,691.1 Z" fill="#f2dc30" stroke="#f2dc30" stroke-width="0.5"/>
<path d="M340.2,700.6 L344.4,702.1 L347.1,694.5 L343.0,692.8 Z" fill="#f2dc30" stroke="#f2dc30" stroke-width="0.5"/>
<path d="M344.4,702.1 L348.6,703.6 L351.2,696.2 L347.1,694.5 Z" fill="#f2dc30" stroke="#f2dc30" stroke-width="0.5"/>
<path d="M348.6,703.6 L352.6,705.1 L355.2,697.8 L351.2,696.2 Z" fill="#f2dc30" stroke="#f2dc30" stroke-width="0.5"/>
<path d="M352.6,705.1 L356.7,706.5 L359.2,699.4 L355.2,697.8 Z" fill="#f2dc30" stroke="#f2dc30" stroke-width="0.5"/>
<path d="M356.7,706.5 L360.6,707.9 L363.2,701.0 L359.2,699.4 Z" fill="#f2dc30" stroke="#f2dc30" stroke-width="0.5"/>
<path d="M360.6,707.9 L364.5,709.4 L367.1,702.5 L363.2,701.0 Z" fill="#f2dc30" stroke="#f2dc30" stroke-width="0.5"/>
<path d="M364.5,709.4 L368.4,710.8 L370.9,704.0 L367.1,702.5 Z" fill="#f2dc30" stroke="#f2dc30" stroke-width="0.5"/>
<path d="M368.4,710.8 L372.2,712.2 L374.6,705.5 L370.9,704.0 Z" fill="#f2dc30" stroke="#f2dc30" stroke-width="0.5"/>
<path d="M372.2,712.2 L376.1,713.5 L378.3,706.9 L374.6,705.5 Z" fill="#f2dc30" stroke="#f2dc30" stroke-width="0.5"/>
<path d="M376.1,713.5 L380.0,714.8 L382.1,708.2 L378.3,706.9 Z" fill="#f2dc30" stroke="#f2dc30" stroke-width="0.5"/>
<path d="M380.0,714.8 L383.8,716.0 L385.9,709.5 L382.1,708.2 Z" fill="#f1d832" stroke="#f1d832" stroke-width="0.5"/>
<path d="M383.8,716.0 L387.7,717.2 L389.6,710.8 L385.9,709.5 Z" fill="#f0d434" stroke="#f0d434" stroke-width="0.5"/>
<path d="M387.7,717.2 L391.5,718.3 L393.3,711.9 L389.6,710.8 Z" fill="#eed036" stroke="#eed036" stroke-width="0.5"/>
<path d="M391.5,718.3 L395.3,719.3 L396.9,713.0 L393.3,711.9 Z" fill="#edcc38" stroke="#edcc38" stroke-width="0.5"/>
<path d="M395.3,719.3 L399.0,720.2 L400.4,714.1 L396.9,713.0 Z" fill="#ecc83a" stroke="#ecc83a" stroke-width="0.5"/>
<path d="M399.0,720.2 L402.7,721.0 L403.9,715.0 L400.4,714.1 Z" fill="#eac83b" stroke="#eac83b" stroke-width="0.5"/>
<path d="M402.7,721.0 L406.3,721.7 L407.5,715.9 L403.9,715.0 Z" fill="#e9c83c" stroke="#e9c83c" stroke-width="0.5"/>
<path d="M406.3,721.7 L409.9,722.4 L411.0,716.8 L407.5,715.9 Z" fill="#e7c83e" stroke="#e7c83e" stroke-width="0.5"/>
<path d="M409.9,722.4 L413.3,723.1 L414.4,717.7 L411.0,716.8 Z" fill="#e6c83f" stroke="#e6c83f" stroke-width="0.5"/>
<path d="M413.3,723.1 L416.7,723.7 L417.7,718.4 L414.4,717.7 Z" fill="#e4c840" stroke="#e4c840" stroke-width="0.5"/>
<path d="M416.7,723.7 L420.0,724.3 L420.9,719.1 L417.7,718.4 Z" fill="#dec843" stroke="#dec843" stroke-width="0.5"/>
<path d="M420.0,724.3 L423.2,724.9 L424.1,719.8 L420.9,719.1 Z" fill="#d9c846" stroke="#d9c846" stroke-width="0.5"/>
<path d="M423.2,724.9 L426.3,725.5 L427.3,720.5 L424.1,719.8 Z" fill="#d3c84a" stroke="#d3c84a" stroke-width="0.5"/>
<path d="M426.3,725.5 L429.4,726.1 L430.4,721.2 L427.3,720.5 Z" fill="#cec84d" stroke="#cec84d" stroke-width="0.5"/>
<path d="M429.4,726.1 L432.3,726.8 L433.4,721.9 L430.4,721.2 Z" fill="#c8c850" stroke="#c8c850" stroke-width="0.5"/>
<path d="M432.3,726.8 L435.1,727.4 L436.3,722.6 L433.4,721.9 Z" fill="#bdc65d" stroke="#bdc65d" stroke-width="0.5"/>
<path d="M435.1,727.4 L437.9,728.1 L439.1,723.3 L436.3,722.6 Z" fill="#b2c56a" stroke="#b2c56a" stroke-width="0.5"/>
<path d="M437.9,728.1 L440.6,728.8 L441.8,724.0 L439.1,723.3 Z" fill="#a6c376" stroke="#a6c376" stroke-width="0.5"/>
<path d="M440.6,728.8 L443.4,729.5 L444.6,724.6 L441.8,724.0 Z" fill="#9bc283" stroke="#9bc283" stroke-width="0.5"/>
<path d="M443.4,729.5 L446.2,730.2 L447.4,725.4 L444.6,724.6 Z" fill="#90c090" stroke="#90c090" stroke-width="0.5"/>
<path d="M446.2,730.2 L449.0,730.9 L450.2,726.1 L447.4,725.4 Z" fill="#8abe9a" stroke="#8abe9a" stroke-width="0.5"/>
<path d="M449.0,730.9 L451.8,731.6 L453.0,726.8 L450.2,726.1 Z" fill="#84bda3" stroke="#84bda3" stroke-width="0.5"/>
<path d="M451.8,731.6 L454.8,732.3 L455.8,727.6 L453.0,726.8 Z" fill="#7ebbad" stroke="#7ebbad" stroke-width="0.5"/>
<path d="M454.8,732.3 L457.8,732.9 L458.8,728.3 L455.8,727.6 Z" fill="#78bab6" stroke="#78bab6" stroke-width="0.5"/>
<path d="M457.8,732.9 L461.1,733.6 L462.0,729.0 L458.8,728.3 Z" fill="#72b8c0" stroke="#72b8c0" stroke-width="0.5"/>
<path d="M461.1,733.6 L464.5,734.2 L465.3,729.8 L462.0,729.0 Z" fill="#71b7c2" stroke="#71b7c2" stroke-width="0.5"/>
<path d="M464.5,734.2 L468.0,734.9 L468.8,730.5 L465.3,729.8 Z" fill="#70b6c3" stroke="#70b6c3" stroke-width="0.5"/>
<path d="M468.0,734.9 L471.5,735.5 L472.3,731.2 L468.8,730.5 Z" fill="#6eb6c5" stroke="#6eb6c5" stroke-width="0.5"/>
<path d="M471.5,735.5 L475.1,736.2 L475.8,732.0 L472.3,731.2 Z" fill="#6db5c6" stroke="#6db5c6" stroke-width="0.5"/>
<path d="M475.1,736.2 L478.7,736.8 L479.4,732.7 L475.8,732.0 Z" fill="#6cb4c8" stroke="#6cb4c8" stroke-width="0.5"/>
<path d="M478.7,736.8 L482.3,737.5 L483.1,733.4 L479.4,732.7 Z" fill="#6bb3cb" stroke="#6bb3cb" stroke-width="0.5"/>
<path d="M482.3,737.5 L486.0,738.1 L486.7,734.1 L483.1,733.4 Z" fill="#6ab2ce" stroke="#6ab2ce" stroke-width="0.5"/>
<path d="M486.0,738.1 L489.7,738.8 L490.4,734.8 L486.7,734.1 Z" fill="#68b2d2" stroke="#68b2d2" stroke-width="0.5"/>
<path d="M489.7,738.8 L493.5,739.4 L494.1,735.5 L490.4,734.8 Z" fill="#67b1d5" stroke="#67b1d5" stroke-width="0.5"/>
<path d="M493.5,739.4 L497.3,740.0 L497.9,736.0 L494.1,735.5 Z" fill="#66b0d8" stroke="#66b0d8" stroke-width="0.5"/>
<path d="M497.3,740.0 L501.2,740.6 L501.7,736.6 L497.9,736.0 Z" fill="#65b0da" stroke="#65b0da" stroke-width="0.5"/>
<path d="M501.2,740.6 L505.0,741.2 L505.6,737.2 L501.7,736.6 Z" fill="#64afdb" stroke="#64afdb" stroke-width="0.5"/>
<path d="M505.0,741.2 L508.9,741.7 L509.4,737.7 L505.6,737.2 Z" fill="#64afdd" stroke="#64afdd" stroke-width="0.5"/>
<path d="M508.9,741.7 L512.7,742.2 L513.2,738.2 L509.4,737.7 Z" fill="#63aede" stroke="#63aede" stroke-width="0.5"/>
<path d="M512.7,742.2 L516.6,742.7 L517.0,738.7 L513.2,738.2 Z" fill="#62aee0" stroke="#62aee0" stroke-width="0.5"/>
<path d="M516.6,742.7 L520.5,743.1 L520.9,739.1 L517.0,738.7 Z" fill="#62aee0" stroke="#62aee0" stroke-width="0.5"/>
<path d="M520.5,743.1 L524.3,743.4 L524.7,739.5 L520.9,739.1 Z" fill="#62aee0" stroke="#62aee0" stroke-width="0.5"/>
<path d="M524.3,743.4 L528.1,743.8 L528.5,739.8 L524.7,739.5 Z" fill="#62aee0" stroke="#62aee0" stroke-width="0.5"/>
<path d="M528.1,743.8 L531.6,744.2 L532.0,740.2 L528.5,739.8 Z" fill="#62aee0" stroke="#62aee0" stroke-width="0.5"/>
<path d="M531.6,744.2 L534.8,744.6 L535.3,740.6 L532.0,740.2 Z" fill="#62aee0" stroke="#62aee0" stroke-width="0.5"/>
<path d="M534.8,744.6 L537.9,745.0 L538.4,741.0 L535.3,740.6 Z" fill="#62aee0" stroke="#62aee0" stroke-width="0.5"/>
<path d="M537.9,745.0 L540.8,745.4 L541.4,741.4 L538.4,741.0 Z" fill="#62aee0" stroke="#62aee0" stroke-width="0.5"/>
<path d="M540.8,745.4 L543.7,745.8 L544.2,741.8 L541.4,741.4 Z" fill="#62aee0" stroke="#62aee0" stroke-width="0.5"/>
<path d="M543.7,745.8 L546.4,746.2 L547.0,742.3 L544.2,741.8 Z" fill="#62aee0" stroke="#62aee0" stroke-width="0.5"/>
<path d="M546.4,746.2 L549.0,746.6 L549.7,742.7 L547.0,742.3 Z" fill="#62aee0" stroke="#62aee0" stroke-width="0.5"/>
<path d="M549.0,746.6 L551.4,747.1 L552.2,743.2 L549.7,742.7 Z" fill="#62aee0" stroke="#62aee0" stroke-width="0.5"/>
<path d="M551.4,747.1 L553.8,747.6 L554.5,743.6 L552.2,743.2 Z" fill="#62aee0" stroke="#62aee0" stroke-width="0.5"/>
<path d="M553.8,747.6 L556.2,748.0 L556.8,744.1 L554.5,743.6 Z" fill="#62aee0" stroke="#62aee0" stroke-width="0.5"/>
<path d="M556.2,748.0 L558.8,748.4 L559.3,744.4 L556.8,744.1 Z" fill="#62aee0" stroke="#62aee0" stroke-width="0.5"/>
<path d="M558.8,748.4 L561.9,748.8 L562.3,744.8 L559.3,744.4 Z" fill="#62aee0" stroke="#62aee0" stroke-width="0.5"/>
<path d="M561.9,748.8 L565.4,749.1 L565.8,745.1 L562.3,744.8 Z" fill="#62aee0" stroke="#62aee0" stroke-width="0.5"/>
<path d="M565.4,749.1 L568.9,749.4 L569.2,745.4 L565.8,745.1 Z" fill="#62aee0" stroke="#62aee0" stroke-width="0.5"/>
<path d="M568.9,749.4 L571.9,749.6 L572.2,745.6 L569.2,745.4 Z" fill="#62aee0" stroke="#62aee0" stroke-width="0.5"/>
<path d="M571.9,749.6 L574.0,749.8 L574.3,745.8 L572.2,745.6 Z" fill="#62aee0" stroke="#62aee0" stroke-width="0.5"/>
</g>
<linearGradient id="cb" x1="0" y1="1" x2="0" y2="0">
<stop offset="0" stop-color="#3a388f"/>
<stop offset="0.067" stop-color="#40469c"/>
<stop offset="0.129" stop-color="#4656aa"/>
<stop offset="0.19" stop-color="#4966b8"/>
<stop offset="0.252" stop-color="#4a78c4"/>
<stop offset="0.314" stop-color="#4d8dd0"/>
<stop offset="0.376" stop-color="#4f9ed0"/>
<stop offset="0.438" stop-color="#55a8b8"/>
<stop offset="0.5" stop-color="#5fb09e"/>
<stop offset="0.536" stop-color="#6fb38e"/>
<stop offset="0.598" stop-color="#8ab77a"/>
<stop offset="0.66" stop-color="#a8b46c"/>
<stop offset="0.72" stop-color="#c3b062"/>
<stop offset="0.783" stop-color="#d8ae58"/>
<stop offset="0.827" stop-color="#e9ad4a"/>
<stop offset="0.876" stop-color="#efbf45"/>
<stop offset="0.938" stop-color="#f0d43c"/>
<stop offset="1" stop-color="#f0e63c"/>
</linearGradient>
<rect x="621" y="28" width="17.6" height="694.5" fill="url(#cb)" stroke="#000" stroke-width="2"/>
<text x="626" y="21.6" font-family="Liberation Sans, Arial, sans-serif" font-size="31.5" textLength="63.4" lengthAdjust="spacingAndGlyphs" text-anchor="middle" fill="#000">1665</text>
<text x="625.5" y="753.7" font-family="Liberation Sans, Arial, sans-serif" font-size="31.5" textLength="63.4" lengthAdjust="spacingAndGlyphs" text-anchor="middle" fill="#000">1435</text>
<g stroke="#e0e0e0" stroke-width="1" fill="none">
<line x1="839.5" y1="6.9" x2="839.5" y2="731.9"/>
<line x1="912.5" y1="6.9" x2="912.5" y2="731.9"/>
<line x1="985.5" y1="6.9" x2="985.5" y2="731.9"/>
<line x1="1057.5" y1="6.9" x2="1057.5" y2="731.9"/>
<line x1="1130.5" y1="6.9" x2="1130.5" y2="731.9"/>
<line x1="1202.5" y1="6.9" x2="1202.5" y2="731.9"/>
<line x1="1275.5" y1="6.9" x2="1275.5" y2="731.9"/>
<line x1="1347.5" y1="6.9" x2="1347.5" y2="731.9"/>
<line x1="1420.5" y1="6.9" x2="1420.5" y2="731.9"/>
<line x1="767.6" y1="651.5" x2="1493.3" y2="651.5"/>
<line x1="767.6" y1="570.5" x2="1493.3" y2="570.5"/>
<line x1="767.6" y1="489.5" x2="1493.3" y2="489.5"/>
<line x1="767.6" y1="409.5" x2="1493.3" y2="409.5"/>
<line x1="767.6" y1="328.5" x2="1493.3" y2="328.5"/>
<line x1="767.6" y1="248.5" x2="1493.3" y2="248.5"/>
<line x1="767.6" y1="167.5" x2="1493.3" y2="167.5"/>
<line x1="767.6" y1="87.5" x2="1493.3" y2="87.5"/>
</g>
<rect x="775" y="48" width="31" height="127" fill="#fff"/>
<rect x="1079" y="691" width="99" height="30" fill="#fff"/>
<polyline points="803.2,378.9 806.9,334.0 810.9,338.0 814.3,357.5 817.7,341.8 821.1,287.0 824.8,284.5 828.6,288.6 832.0,301.0 835.7,320.1 839.4,321.0 843.4,325.7 847.4,340.5 851.1,345.2 854.2,343.6 861.0,351.0 868.2,357.2 872.2,365.9 875.9,362.8 879.0,365.3 882.7,370.5 886.7,370.2 889.8,376.7 893.8,372.0 897.5,378.3 901.4,381.3 905.3,384.4 909.3,382.0 916.1,385.0 922.3,390.0 928.5,392.2 934.0,397.4 937.7,395.0 942.4,396.8 947.0,400.7 951.7,404.5 955.0,404.2 961.1,408.4 966.1,407.6 970.3,413.8 977.2,407.1 981.7,415.0 988.4,411.6 991.6,414.1 995.3,410.8 999.5,415.8 1004.5,415.8 1009.4,414.6 1014.4,417.8 1018.7,419.2 1023.0,420.7 1028.7,423.2 1032.9,421.0 1039.1,424.0 1042.8,424.3 1046.5,424.5 1052.7,426.4 1057.7,431.4 1064.4,422.0 1070.0,429.4 1074.3,429.5 1078.7,429.4 1083.7,429.0 1088.6,429.4 1093.5,430.4 1098.5,431.4 1102.6,431.7 1106.8,432.1 1110.9,431.9 1115.3,435.6 1119.6,430.1 1125.7,431.1 1130.2,428.7 1134.4,433.1 1139.3,434.4 1144.3,436.8 1148.7,435.6 1153.0,434.9 1158.0,434.3 1162.9,434.9 1166.6,436.0 1170.3,436.3 1174.0,439.3 1177.7,434.9 1183.9,436.8 1188.1,434.4 1192.6,436.3 1197.4,436.4 1201.8,435.9 1206.1,434.9 1211.0,435.6 1217.2,433.1 1222.2,435.6 1227.1,436.4 1231.6,438.6 1235.8,436.8 1242.0,437.3 1246.9,435.6 1251.9,436.8 1256.2,434.3 1260.6,433.1 1264.3,433.8 1268.0,433.1 1272.9,431.4 1279.1,428.4 1285.3,429.4 1289.0,430.9 1294.0,428.9 1297.7,428.3 1301.4,426.4 1306.4,426.9 1311.3,425.0 1313.8,425.7 1318.7,423.2 1322.5,422.2 1326.2,420.8 1332.4,416.5 1336.1,416.3 1339.8,415.8 1344.7,412.1 1350.9,410.9 1355.8,408.8 1360.8,407.6 1365.8,404.7 1369.5,400.9 1373.2,398.5 1376.9,396.7 1380.6,394.8 1384.3,391.9 1388.1,390.3 1394.8,383.8 1398.8,380.8 1402.9,378.7 1409.7,372.0 1413.3,366.0 1417.0,360.0 1420.7,356.0 1424.4,352.0 1428.2,344.6 1431.9,337.2 1435.6,327.2 1439.3,317.3 1443.2,305.6 1447.0,294.0 1453.7,274.0 1460.3,244.0 1467.0,207.0 1473.7,170.4 1478.7,140.3 1483.7,113.5 1488.7,90.0 1492.7,71.7" fill="none" stroke="#3e6fbf" stroke-width="2.8" stroke-linejoin="round" stroke-linecap="round"/>
<polyline points="803.2,441.7 806.9,446.3 810.3,463.3 814.3,467.3 817.7,443.2 821.8,395.3 825.5,391.6 828.9,387.5 832.0,398.4 836.3,412.9 839.7,410.7 843.4,421.6 847.4,426.2 851.1,433.9 857.3,433.0 863.5,443.2 869.7,447.9 872.8,451.9 879.6,452.5 885.2,455.6 891.4,457.1 896.8,460.6 902.2,464.2 906.0,465.1 909.9,465.5 913.8,467.0 917.6,468.0 921.5,468.7 925.4,470.4 931.6,475.7 937.7,474.1 943.9,477.2 947.8,479.6 951.7,483.4 955.0,484.4 958.7,484.6 962.4,485.1 966.1,487.0 969.8,489.6 973.5,487.4 977.2,484.4 982.2,488.8 987.2,488.8 992.1,488.3 995.8,489.2 999.5,489.8 1003.2,490.5 1007.5,491.1 1011.9,491.3 1016.8,492.4 1021.8,494.5 1026.8,494.1 1031.7,493.8 1036.7,494.8 1041.6,496.7 1046.5,497.3 1051.5,496.7 1057.7,501.2 1064.4,494.3 1068.8,500.4 1073.8,498.9 1078.7,498.7 1083.7,499.4 1088.6,499.2 1092.3,499.6 1096.0,501.2 1100.6,501.5 1105.1,501.0 1109.7,501.2 1115.3,506.1 1119.6,500.7 1125.7,500.4 1130.2,498.2 1134.4,502.4 1139.3,503.5 1144.3,504.9 1148.7,504.8 1153.0,503.7 1158.0,503.3 1162.9,504.2 1166.6,504.3 1170.3,505.6 1174.0,507.9 1177.7,504.9 1183.9,504.9 1188.1,501.7 1193.8,505.4 1197.4,504.9 1201.8,504.9 1206.1,503.7 1209.8,506.2 1213.5,505.0 1217.2,503.7 1221.0,503.7 1224.7,504.9 1231.6,507.7 1237.0,504.9 1242.0,505.4 1246.9,502.5 1250.7,504.9 1256.8,503.2 1260.5,503.6 1264.3,502.7 1268.0,502.7 1271.7,500.8 1275.4,500.7 1280.4,498.7 1284.1,498.6 1287.8,498.2 1291.5,498.7 1295.8,496.8 1300.2,495.5 1303.9,495.9 1307.6,495.6 1311.3,496.3 1315.0,494.5 1318.8,491.5 1322.5,490.1 1326.8,487.8 1331.1,486.4 1335.4,486.6 1339.8,485.9 1344.7,483.4 1349.1,481.7 1353.4,480.2 1357.1,478.8 1360.8,477.7 1364.5,476.0 1368.3,474.0 1374.5,469.5 1378.8,467.8 1383.1,466.1 1387.5,461.9 1391.9,458.1 1396.3,453.7 1400.8,450.7 1406.0,445.5 1411.2,440.3 1415.7,435.1 1420.1,429.9 1424.4,421.4 1430.6,404.0 1436.8,381.7 1443.0,359.4 1448.0,337.2 1452.0,318.0 1457.0,294.0 1463.7,254.0 1470.3,207.0 1477.0,167.0 1482.0,126.9 1487.0,96.8 1492.6,84.0" fill="none" stroke="#c5532b" stroke-width="2.8" stroke-linejoin="round" stroke-linecap="round"/>
<polyline points="803.2,492.1 806.9,509.7 810.3,497.3 814.0,500.4 817.7,480.3 821.8,446.9 828.9,440.7 832.6,454.0 836.3,461.2 839.7,458.7 843.4,469.5 849.6,478.8 855.8,480.3 859.6,484.6 863.5,489.6 869.7,494.3 875.9,497.3 882.1,500.4 886.8,502.5 891.4,504.1 896.0,506.1 900.6,507.6 904.7,509.5 908.9,510.0 913.0,511.9 917.1,512.9 921.3,514.1 925.4,515.9 929.5,516.5 933.6,518.3 937.7,519.0 944.0,521.5 950.0,524.7 955.0,528.4 959.9,526.4 963.6,528.1 967.3,530.9 971.0,529.1 974.8,527.2 979.8,528.9 984.7,531.4 988.4,530.9 992.1,530.9 997.0,532.1 1002.0,533.4 1008.2,532.1 1011.9,534.0 1015.6,535.1 1019.3,536.3 1024.2,536.9 1029.2,538.8 1034.2,539.5 1039.1,540.8 1042.8,539.5 1046.5,539.1 1050.2,541.4 1054.0,543.1 1057.7,544.5 1064.4,537.1 1068.8,544.0 1073.8,543.8 1078.7,542.8 1083.7,544.1 1088.6,544.5 1093.5,545.4 1098.5,545.7 1103.5,546.7 1108.4,546.5 1115.3,551.9 1119.6,547.5 1123.3,547.0 1130.2,542.8 1135.6,547.7 1141.8,550.7 1148.0,551.2 1151.7,550.4 1155.4,548.7 1160.3,549.6 1165.3,551.2 1169.7,553.3 1174.0,554.4 1177.7,552.4 1181.4,552.1 1185.1,551.9 1188.1,549.5 1193.8,552.7 1199.9,552.7 1204.8,553.9 1209.8,554.4 1213.5,553.6 1217.2,552.7 1223.4,554.4 1227.2,555.3 1230.9,556.4 1235.8,554.4 1240.8,555.2 1246.9,550.7 1251.9,553.2 1258.1,552.0 1264.3,553.7 1268.0,552.4 1271.7,551.5 1275.4,550.4 1279.1,549.5 1283.2,548.8 1287.4,548.2 1291.5,548.3 1295.8,547.2 1300.2,545.3 1303.9,546.3 1307.6,547.1 1311.3,547.0 1315.4,545.5 1319.6,543.5 1323.7,541.6 1328.7,540.9 1333.6,539.6 1337.3,538.8 1341.0,539.1 1344.8,538.0 1348.5,536.4 1353.5,533.6 1358.4,530.9 1362.1,529.6 1365.8,529.2 1369.5,527.2 1373.2,526.0 1378.2,526.0 1383.1,519.8 1388.1,512.9 1393.0,510.6 1398.0,509.1 1402.9,504.4 1409.1,504.4 1412.8,502.1 1416.4,499.9 1420.1,497.6 1424.4,490.7 1428.2,487.0 1431.9,483.3 1436.8,468.4 1441.8,456.0 1448.0,431.3 1454.2,409.0 1459.1,389.2 1464.1,355.0 1467.0,332.0 1472.0,294.0 1477.0,250.6 1482.0,206.8 1486.3,167.0 1489.7,150.3 1493.0,143.6" fill="none" stroke="#e2b236" stroke-width="2.8" stroke-linejoin="round" stroke-linecap="round"/>
<polyline points="803.0,712.6 807.3,630.3 810.8,670.1 814.3,686.6 817.7,677.9 821.5,692.7 825.5,635.5 829.0,688.3 832.5,631.1 836.3,684.0 839.7,640.7 843.4,664.9 846.8,638.6 850.7,662.3 855.0,658.9 858.5,653.7 861.1,644.1 864.9,664.9 868.9,640.7 872.3,660.6 875.8,645.9 879.8,666.7 883.0,646.0 886.6,666.3 890.3,646.5 893.9,664.9 897.5,647.0 901.1,663.6 904.8,647.5 908.4,662.2 912.0,648.0 915.7,661.3 919.3,648.4 922.9,660.9 926.6,648.8 930.2,660.6 933.8,649.1 937.4,660.2 941.1,649.5 944.7,659.8 948.3,649.9 952.0,659.4 955.6,650.3 959.2,659.0 962.9,650.6 966.5,657.7 970.1,651.0 973.7,655.8 977.4,652.5 981.0,656.7 984.6,650.1 988.3,657.9 991.9,650.0 995.5,657.8 999.2,650.0 1002.8,657.7 1006.4,650.0 1010.0,657.5 1013.7,650.0 1017.3,657.4 1020.9,650.0 1024.6,657.3 1028.2,650.0 1031.8,657.1 1035.5,650.0 1039.1,657.0 1042.7,650.1 1046.4,656.6 1050.0,650.5 1053.6,656.1 1057.2,650.9 1060.9,655.6 1064.5,651.2 1068.1,655.1 1071.8,652.2 1075.4,655.6 1079.0,650.7 1082.7,654.0 1086.3,651.8 1089.9,654.9 1093.5,651.4 1097.2,654.1 1100.8,651.2 1104.4,654.4 1108.1,651.1 1111.7,653.5 1115.3,650.7 1119.0,653.7 1122.6,651.1 1126.2,654.5 1129.8,651.3 1133.5,653.6 1137.1,650.4 1140.7,653.0 1144.4,649.7 1148.0,652.4 1151.6,650.2 1155.3,652.7 1158.9,650.0 1162.5,653.5 1166.1,650.1 1169.8,652.7 1173.4,649.6 1177.0,651.7 1180.7,649.6 1184.3,651.7 1187.9,649.8 1191.6,652.9 1195.2,649.9 1198.8,651.5 1202.4,650.2 1206.1,652.3 1209.7,649.8 1213.3,652.3 1217.0,649.8 1220.6,651.9 1224.2,649.0 1227.9,652.1 1231.5,649.9 1235.1,650.6 1240.0,648.4 1243.8,649.0 1247.6,649.0 1251.4,648.1 1255.2,647.4 1259.1,646.7 1262.9,648.2 1266.7,647.6 1270.5,648.2 1274.3,647.5 1278.1,647.2 1281.9,648.1 1285.8,647.0 1289.6,648.2 1293.4,648.1 1297.2,647.3 1301.1,647.6 1304.9,647.9 1308.7,647.5 1312.5,646.7 1316.3,647.5 1320.1,648.0 1323.9,646.6 1327.8,647.8 1331.6,647.4 1335.4,647.7 1339.2,646.4 1343.0,646.7 1346.8,645.6 1350.6,647.2 1354.4,647.1 1358.2,646.2 1362.1,645.2 1365.9,645.4 1369.7,646.3 1373.5,645.4 1377.3,645.8 1381.0,646.8 1384.8,645.8 1388.5,644.8 1392.3,645.8 1396.0,645.1 1399.8,646.3 1403.5,646.2 1407.3,645.2 1411.0,645.4 1414.8,645.5 1418.5,644.9 1428.8,644.9 1442.6,640.6 1456.3,640.6 1470.0,636.0 1483.8,636.4 1487.2,638.9 1490.6,648.4 1492.4,661.2" fill="none" stroke="#6d2d8c" stroke-width="2.8" stroke-linejoin="round" stroke-linecap="round"/>
<polyline points="803.0,617.8 806.5,640.7 809.9,658.0 813.4,659.4 816.9,656.3 820.3,664.9 824.7,620.2 828.5,661.5 832.1,619.5 835.9,658.0 839.4,636.8 842.9,654.5 847.2,640.7 850.7,650.2 854.1,646.7 857.6,650.2 861.1,644.1 864.9,659.7 868.9,641.5 872.3,656.3 875.8,642.4 879.8,660.6 883.0,639.6 886.6,654.9 890.3,640.0 893.9,654.6 897.5,640.3 901.1,654.4 904.8,640.7 908.4,654.1 912.0,641.0 915.7,653.9 919.3,645.6 922.9,653.8 926.6,646.4 930.2,653.7 933.8,646.8 937.4,653.6 941.1,647.3 944.7,653.4 948.3,647.7 952.0,653.3 955.6,648.1 959.2,653.2 962.9,648.6 966.5,653.1 970.1,649.0 973.7,652.4 977.4,649.6 981.0,653.7 984.6,647.6 988.3,655.0 991.9,647.5 995.5,655.0 999.2,647.5 1002.8,655.0 1006.4,647.5 1010.0,655.0 1013.7,647.5 1017.3,655.0 1020.9,647.5 1024.6,655.0 1028.2,647.5 1031.8,655.0 1035.5,647.5 1039.1,655.0 1042.7,647.8 1046.4,654.6 1050.0,648.5 1053.6,654.1 1057.2,649.2 1060.9,653.6 1064.5,650.0 1068.1,653.1 1071.8,649.9 1075.4,653.5 1079.0,650.9 1082.7,652.6 1086.3,650.5 1089.9,652.9 1093.5,650.8 1097.2,653.4 1100.8,649.9 1104.4,652.1 1108.1,651.1 1111.7,652.8 1115.3,651.1 1119.0,652.1 1122.6,650.6 1126.2,653.2 1129.8,650.2 1133.5,653.5 1137.1,651.3 1140.7,652.0 1144.4,650.0 1148.0,652.8 1151.6,651.4 1155.3,652.6 1158.9,650.3 1162.5,652.6 1166.1,650.0 1169.8,652.3 1173.4,650.7 1177.0,652.7 1180.7,650.4 1184.3,652.2 1187.9,650.4 1191.6,652.6 1195.2,650.5 1198.8,651.9 1202.4,651.4 1206.1,652.7 1209.7,651.1 1213.3,652.1 1217.0,651.7 1220.6,653.1 1224.2,650.3 1227.9,652.3 1231.5,651.3 1235.1,652.9 1240.0,651.8 1243.7,652.0 1247.4,652.2 1251.1,652.3 1254.8,652.5 1258.6,652.1 1262.3,652.4 1266.0,650.8 1269.7,651.5 1273.4,652.4 1277.1,651.8 1280.8,652.3 1284.5,650.8 1288.2,651.4 1292.0,651.0 1295.7,651.5 1299.4,651.5 1303.1,650.5 1306.8,650.9 1310.5,650.9 1314.2,652.1 1317.9,651.8 1321.6,650.7 1325.3,651.8 1329.1,650.6 1332.8,651.4 1336.5,650.5 1340.2,650.2 1343.9,651.8 1347.6,650.6 1351.3,650.6 1355.0,651.9 1358.7,651.7 1362.5,650.6 1366.2,651.8 1369.9,651.0 1373.6,651.2 1377.3,650.9 1394.5,650.1 1403.1,650.9 1411.7,648.4 1428.8,644.6 1437.4,640.6 1454.6,630.9 1468.3,620.0 1471.8,615.4 1480.3,608.0 1488.9,604.6 1492.4,611.5" fill="none" stroke="#78aa42" stroke-width="2.8" stroke-linejoin="round" stroke-linecap="round"/>
<polyline points="803.0,684.0 807.3,709.1 810.8,684.0 814.3,678.8 818.6,667.5 821.5,671.9 825.5,631.1 829.0,680.5 832.5,630.3 836.3,674.5 839.7,641.5 843.4,659.7 846.8,644.1 850.7,654.5 855.0,651.1 858.5,652.8 861.1,646.7 864.9,662.3 868.9,643.3 872.3,658.9 875.8,645.0 879.8,661.5 883.0,644.0 886.6,661.5 890.3,644.3 893.9,660.5 897.5,644.5 901.1,659.5 904.8,644.8 908.4,658.5 912.0,645.0 915.7,657.8 919.3,645.6 922.9,657.3 926.6,646.3 930.2,656.9 933.8,646.9 937.4,656.5 941.1,647.5 944.7,656.0 948.3,648.1 952.0,655.6 955.6,648.8 959.2,655.1 962.9,649.4 966.5,654.7 970.1,650.0 973.7,652.6 977.4,650.3 981.0,653.2 984.6,649.1 988.3,654.5 991.9,649.1 995.5,654.4 999.2,649.1 1002.8,654.3 1006.4,649.2 1010.0,654.3 1013.7,649.3 1017.3,654.2 1020.9,649.3 1024.6,654.1 1028.2,649.4 1031.8,654.1 1035.5,649.5 1039.1,654.0 1042.7,649.5 1046.4,653.5 1050.0,649.7 1053.6,652.9 1057.2,649.8 1060.9,652.3 1064.5,649.9 1068.1,651.7 1071.8,649.6 1075.4,651.6 1079.0,649.8 1082.7,651.7 1086.3,650.2 1089.9,650.8 1093.5,649.3 1097.2,652.0 1100.8,649.7 1104.4,651.1 1108.1,650.9 1111.7,651.5 1115.3,650.7 1119.0,651.5 1122.6,650.4 1126.2,650.9 1129.8,650.4 1133.5,652.1 1137.1,650.2 1140.7,651.9 1144.4,650.5 1148.0,650.8 1151.6,650.7 1155.3,651.6 1158.9,649.9 1162.5,650.7 1166.1,650.9 1169.8,651.5 1173.4,650.7 1177.0,652.1 1180.7,650.7 1184.3,652.2 1187.9,650.2 1191.6,652.0 1195.2,650.3 1198.8,652.2 1202.4,651.0 1206.1,650.9 1209.7,649.8 1213.3,651.0 1217.0,651.2 1220.6,651.4 1224.2,650.7 1227.9,651.2 1231.5,650.5 1235.1,651.3 1240.0,652.7 1243.7,652.5 1247.4,652.2 1251.1,652.8 1254.8,652.1 1258.6,652.6 1262.3,652.4 1266.0,652.0 1269.7,652.5 1273.4,651.9 1277.1,652.4 1280.8,651.9 1284.5,651.9 1288.2,652.3 1292.0,652.8 1295.7,651.9 1299.4,652.0 1303.1,652.4 1306.8,652.8 1310.5,652.3 1314.2,652.1 1317.9,652.8 1321.6,651.6 1325.3,652.6 1329.1,651.9 1332.8,651.7 1336.5,651.6 1340.2,651.8 1343.9,652.4 1347.6,651.6 1351.3,652.1 1355.0,652.1 1358.7,651.8 1362.5,652.0 1366.2,651.3 1369.9,651.3 1373.6,651.5 1377.3,651.8 1389.4,653.5 1403.1,654.4 1422.0,652.1 1434.0,650.1 1442.6,645.8 1454.6,637.2 1468.3,626.9 1476.9,617.5 1487.2,608.0 1492.4,609.2" fill="none" stroke="#6fbdeb" stroke-width="2.8" stroke-linejoin="round" stroke-linecap="round"/>
<rect x="767.6" y="6.9" width="725.7" height="725.0" fill="none" stroke="#3a3a3a" stroke-width="1.4"/>
<g stroke="#3a3a3a" stroke-width="1.4">
<line x1="840.2" y1="731.9" x2="840.2" y2="724.9"/><line x1="840.2" y1="6.9" x2="840.2" y2="13.9"/>
<line x1="912.7" y1="731.9" x2="912.7" y2="724.9"/><line x1="912.7" y1="6.9" x2="912.7" y2="13.9"/>
<line x1="985.3" y1="731.9" x2="985.3" y2="724.9"/><line x1="985.3" y1="6.9" x2="985.3" y2="13.9"/>
<line x1="1057.9" y1="731.9" x2="1057.9" y2="724.9"/><line x1="1057.9" y1="6.9" x2="1057.9" y2="13.9"/>
<line x1="1130.5" y1="731.9" x2="1130.5" y2="724.9"/><line x1="1130.5" y1="6.9" x2="1130.5" y2="13.9"/>
<line x1="1203.0" y1="731.9" x2="1203.0" y2="724.9"/><line x1="1203.0" y1="6.9" x2="1203.0" y2="13.9"/>
<line x1="1275.6" y1="731.9" x2="1275.6" y2="724.9"/><line x1="1275.6" y1="6.9" x2="1275.6" y2="13.9"/>
<line x1="1348.2" y1="731.9" x2="1348.2" y2="724.9"/><line x1="1348.2" y1="6.9" x2="1348.2" y2="13.9"/>
<line x1="1420.7" y1="731.9" x2="1420.7" y2="724.9"/><line x1="1420.7" y1="6.9" x2="1420.7" y2="13.9"/>
<line x1="767.6" y1="651.3" x2="774.6" y2="651.3"/><line x1="1493.3" y1="651.3" x2="1486.3" y2="651.3"/>
<line x1="767.6" y1="570.8" x2="774.6" y2="570.8"/><line x1="1493.3" y1="570.8" x2="1486.3" y2="570.8"/>
<line x1="767.6" y1="490.2" x2="774.6" y2="490.2"/><line x1="1493.3" y1="490.2" x2="1486.3" y2="490.2"/>
<line x1="767.6" y1="409.7" x2="774.6" y2="409.7"/><line x1="1493.3" y1="409.7" x2="1486.3" y2="409.7"/>
<line x1="767.6" y1="329.1" x2="774.6" y2="329.1"/><line x1="1493.3" y1="329.1" x2="1486.3" y2="329.1"/>
<line x1="767.6" y1="248.6" x2="774.6" y2="248.6"/><line x1="1493.3" y1="248.6" x2="1486.3" y2="248.6"/>
<line x1="767.6" y1="168.0" x2="774.6" y2="168.0"/><line x1="1493.3" y1="168.0" x2="1486.3" y2="168.0"/>
<line x1="767.6" y1="87.5" x2="774.6" y2="87.5"/><line x1="1493.3" y1="87.5" x2="1486.3" y2="87.5"/>
</g>
<g font-family="'Liberation Sans', Arial, sans-serif" font-size="17" fill="#262626">
<text x="767.6" y="754.6" text-anchor="middle">-10</text>
<text x="840.2" y="754.6" text-anchor="middle">-9</text>
<text x="912.7" y="754.6" text-anchor="middle">-8</text>
<text x="985.3" y="754.6" text-anchor="middle">-7</text>
<text x="1057.9" y="754.6" text-anchor="middle">-6</text>
<text x="1130.5" y="754.6" text-anchor="middle">-5</text>
<text x="1203.0" y="754.6" text-anchor="middle">-4</text>
<text x="1275.6" y="754.6" text-anchor="middle">-3</text>
<text x="1348.2" y="754.6" text-anchor="middle">-2</text>
<text x="1420.7" y="754.6" text-anchor="middle">-1</text>
<text x="1493.3" y="754.6" text-anchor="middle">0</text>
<text x="761" y="739.3" text-anchor="end">-5</text>
<text x="761" y="658.7" text-anchor="end">0</text>
<text x="761" y="578.2" text-anchor="end">5</text>
<text x="761" y="497.6" text-anchor="end">10</text>
<text x="761" y="417.1" text-anchor="end">15</text>
<text x="761" y="336.5" text-anchor="end">20</text>
<text x="761" y="256.0" text-anchor="end">25</text>
<text x="761" y="175.4" text-anchor="end">30</text>
<text x="761" y="94.9" text-anchor="end">35</text>
<text x="761" y="14.3" text-anchor="end">40</text>
</g>
<text transform="translate(796.2,170) rotate(-90)" font-family="Liberation Serif, serif" font-size="20" fill="#262626">error sos [m/s]</text>
<text x="1086.4" y="710.9" font-family="Liberation Serif, serif" font-size="20" fill="#262626">depth [cm]</text>
<rect x="1023.5" y="56.6" width="214.6" height="143.6" fill="#fff" stroke="#3a3a3a" stroke-width="1"/>
<g font-family="Liberation Serif, serif" font-size="21.3" fill="#000">
<line x1="1027.4" y1="69.5" x2="1063.5" y2="69.5" stroke="#3e6fbf" stroke-width="2.8"/>
<text x="1065.6" y="74.7">std</text><text x="1117.2" y="74.7">error, desktop</text>
<line x1="1027.4" y1="93.2" x2="1063.5" y2="93.2" stroke="#c5532b" stroke-width="2.8"/>
<text x="1065.6" y="98.4">std</text><text x="1117.2" y="98.4">error, server</text>
<line x1="1027.4" y1="116.3" x2="1063.5" y2="116.3" stroke="#e2b236" stroke-width="2.8"/>
<text x="1065.6" y="121.5">std</text><text x="1117.2" y="121.5">error, cluster</text>
<line x1="1027.4" y1="139.6" x2="1063.5" y2="139.6" stroke="#6d2d8c" stroke-width="2.8"/>
<text x="1065.6" y="144.8">mean</text><text x="1117.2" y="144.8">error, desktop</text>
<line x1="1027.4" y1="163" x2="1063.5" y2="163" stroke="#78aa42" stroke-width="2.8"/>
<text x="1065.6" y="168.2">mean</text><text x="1117.2" y="168.2">error, server</text>
<line x1="1027.4" y1="186.3" x2="1063.5" y2="186.3" stroke="#6fbdeb" stroke-width="2.8"/>
<text x="1065.6" y="191.5">mean</text><text x="1117.2" y="191.5">error, cluster</text>
</g>
<text x="328.8" y="799.7" font-family="Liberation Serif, serif" font-weight="bold" font-size="36" textLength="39" lengthAdjust="spacingAndGlyphs" text-anchor="middle" fill="#000">(a)</text>
<text x="1120" y="799.7" font-family="Liberation Serif, serif" font-weight="bold" font-size="36" textLength="41" lengthAdjust="spacingAndGlyphs" text-anchor="middle" fill="#000">(b)</text>
</svg>
</body></html>
